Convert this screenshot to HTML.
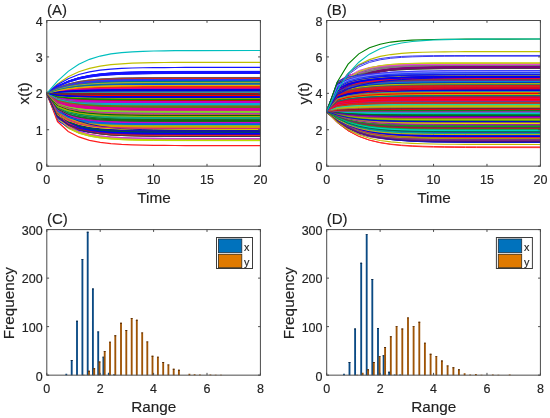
<!DOCTYPE html>
<html><head><meta charset="utf-8"><title>Figure</title>
<style>html,body{margin:0;padding:0;background:#fff}svg{display:block}text{font-family:"Liberation Sans",Arial,Helvetica,sans-serif;fill:#222;stroke:#222;stroke-width:0.15px}</style></head><body>
<svg width="550" height="418" viewBox="0 0 550 418">
<rect width="550" height="418" fill="#fff"/>
<clipPath id="cp1"><rect x="46.8" y="20.5" width="213.59999999999997" height="145.65"/></clipPath>
<g clip-path="url(#cp1)" fill="none">
<path d="M46.8 93.33L57.5 98.66L68.2 100.51L78.8 101.53L89.5 102.15L100.2 102.51L110.9 102.74L121.6 102.87L132.2 102.95L142.9 103.00L153.6 103.03L260.4 103.07" stroke="#00b4d2" stroke-width="1.15"/>
<path d="M46.8 93.33L57.5 86.83L68.2 82.19L78.8 79.03L89.5 76.95L100.2 75.60L110.9 74.75L121.6 74.21L132.2 73.88L142.9 73.67L153.6 73.54L164.3 73.46L175.0 73.41L185.6 73.38L260.4 73.33" stroke="#1414ff" stroke-width="1.05"/>
<path d="M46.8 93.33L57.5 118.17L68.2 126.85L78.8 131.78L89.5 134.79L100.2 136.64L110.9 137.79L121.6 138.50L132.2 138.94L142.9 139.21L153.6 139.38L164.3 139.48L175.0 139.55L185.6 139.59L260.4 139.65" stroke="#bedc00" stroke-width="1.00"/>
<path d="M46.8 93.33L57.5 113.55L68.2 120.57L78.8 124.44L89.5 126.75L100.2 128.13L110.9 128.97L121.6 129.47L132.2 129.77L142.9 129.95L153.6 130.06L164.3 130.13L175.0 130.17L260.4 130.22" stroke="#1414aa" stroke-width="1.55"/>
<path d="M46.8 93.33L57.5 106.28L68.2 110.80L78.8 113.34L89.5 114.88L100.2 115.83L110.9 116.41L121.6 116.76L132.2 116.98L142.9 117.11L153.6 117.20L164.3 117.25L175.0 117.28L260.4 117.32" stroke="#14aa78" stroke-width="1.65"/>
<path d="M46.8 93.33L57.5 115.30L68.2 122.89L78.8 127.02L89.5 129.45L100.2 130.89L110.9 131.74L121.6 132.25L132.2 132.55L142.9 132.73L153.6 132.83L164.3 132.90L175.0 132.93L260.4 132.99" stroke="#0000ff" stroke-width="1.27"/>
<path d="M46.8 93.33L57.5 89.05L68.2 86.19L78.8 84.35L89.5 83.18L100.2 82.46L110.9 82.01L121.6 81.73L132.2 81.56L142.9 81.46L153.6 81.40L164.3 81.36L260.4 81.30" stroke="#00826e" stroke-width="2.20"/>
<path d="M46.8 93.33L57.5 118.05L68.2 126.64L78.8 131.41L89.5 134.27L100.2 135.99L110.9 137.03L121.6 137.66L132.2 138.04L142.9 138.27L153.6 138.41L164.3 138.50L175.0 138.55L185.6 138.58L260.4 138.62" stroke="#cd3cdc" stroke-width="1.15"/>
<path d="M46.8 93.33L57.5 99.85L68.2 102.11L78.8 103.35L89.5 104.09L100.2 104.53L110.9 104.79L121.6 104.94L132.2 105.04L142.9 105.09L153.6 105.13L260.4 105.17" stroke="#00b4d2" stroke-width="1.15"/>
<path d="M46.8 93.33L57.5 86.39L68.2 81.46L78.8 78.14L89.5 75.98L100.2 74.61L110.9 73.75L121.6 73.22L132.2 72.89L142.9 72.69L153.6 72.57L164.3 72.49L175.0 72.45L185.6 72.42L260.4 72.38" stroke="#1414ff" stroke-width="1.05"/>
<path d="M46.8 93.33L57.5 86.32L68.2 81.25L78.8 77.78L89.5 75.49L100.2 74.00L110.9 73.06L121.6 72.46L132.2 72.09L142.9 71.86L153.6 71.71L164.3 71.62L175.0 71.57L185.6 71.53L260.4 71.48" stroke="#1414ff" stroke-width="1.05"/>
<path d="M46.8 93.33L57.5 99.88L68.2 102.16L78.8 103.42L89.5 104.17L100.2 104.62L110.9 104.89L121.6 105.05L132.2 105.15L142.9 105.21L153.6 105.25L260.4 105.30" stroke="#8c6e14" stroke-width="1.30"/>
<path d="M46.8 93.33L57.5 113.59L68.2 120.55L78.8 124.29L89.5 126.46L100.2 127.72L110.9 128.46L121.6 128.89L132.2 129.14L142.9 129.29L153.6 129.38L164.3 129.43L175.0 129.46L260.4 129.50" stroke="#dcd200" stroke-width="2.10"/>
<path d="M46.8 93.33L57.5 111.45L68.2 117.72L78.8 121.17L89.5 123.20L100.2 124.42L110.9 125.15L121.6 125.58L132.2 125.84L142.9 125.99L153.6 126.09L164.3 126.14L175.0 126.18L260.4 126.22" stroke="#d2a000" stroke-width="1.55"/>
<path d="M46.8 93.33L57.5 89.83L68.2 87.49L78.8 85.98L89.5 85.01L100.2 84.40L110.9 84.02L121.6 83.79L132.2 83.64L142.9 83.55L153.6 83.49L164.3 83.46L260.4 83.40" stroke="#008282" stroke-width="1.90"/>
<path d="M46.8 93.33L57.5 118.96L68.2 127.82L78.8 132.66L89.5 135.51L100.2 137.20L110.9 138.20L121.6 138.80L132.2 139.15L142.9 139.37L153.6 139.49L164.3 139.57L175.0 139.61L260.4 139.67" stroke="#cd3cdc" stroke-width="1.15"/>
<path d="M46.8 93.33L57.5 91.27L68.2 89.96L78.8 89.14L89.5 88.63L100.2 88.32L110.9 88.13L121.6 88.01L132.2 87.94L142.9 87.89L153.6 87.87L260.4 87.83" stroke="#eb0082" stroke-width="1.25"/>
<path d="M46.8 93.33L57.5 115.89L68.2 123.69L78.8 127.96L89.5 130.47L100.2 131.97L110.9 132.85L121.6 133.38L132.2 133.70L142.9 133.89L153.6 134.00L164.3 134.06L175.0 134.10L260.4 134.16" stroke="#0000ff" stroke-width="1.27"/>
<path d="M46.8 93.33L57.5 104.60L68.2 108.47L78.8 110.55L89.5 111.75L100.2 112.45L110.9 112.85L121.6 113.09L132.2 113.23L142.9 113.31L153.6 113.36L260.4 113.42" stroke="#aa32c8" stroke-width="2.05"/>
<path d="M46.8 93.33L57.5 107.34L68.2 112.20L78.8 114.88L89.5 116.48L100.2 117.43L110.9 118.01L121.6 118.35L132.2 118.56L142.9 118.69L153.6 118.76L164.3 118.81L175.0 118.83L260.4 118.87" stroke="#14aa78" stroke-width="1.65"/>
<path d="M46.8 93.33L57.5 109.11L68.2 114.55L78.8 117.51L89.5 119.24L100.2 120.26L110.9 120.86L121.6 121.22L132.2 121.43L142.9 121.55L153.6 121.63L164.3 121.67L260.4 121.73" stroke="#146e14" stroke-width="1.33"/>
<path d="M46.8 93.33L57.5 100.77L68.2 103.34L78.8 104.73L89.5 105.54L100.2 106.02L110.9 106.31L121.6 106.47L132.2 106.57L142.9 106.63L153.6 106.66L260.4 106.71" stroke="#647814" stroke-width="1.33"/>
<path d="M46.8 93.33L57.5 90.38L68.2 88.49L78.8 87.30L89.5 86.56L100.2 86.12L110.9 85.84L121.6 85.68L132.2 85.58L142.9 85.52L153.6 85.48L260.4 85.43" stroke="#dcb400" stroke-width="2.25"/>
<path d="M46.8 93.33L57.5 103.07L68.2 106.43L78.8 108.24L89.5 109.29L100.2 109.91L110.9 110.27L121.6 110.48L132.2 110.61L142.9 110.68L153.6 110.72L260.4 110.78" stroke="#82d228" stroke-width="1.17"/>
<path d="M46.8 93.33L57.5 110.06L68.2 115.82L78.8 118.93L89.5 120.74L100.2 121.79L110.9 122.42L121.6 122.78L132.2 123.00L142.9 123.12L153.6 123.19L164.3 123.24L260.4 123.30" stroke="#d200c8" stroke-width="1.40"/>
<path d="M46.8 93.33L57.5 102.84L68.2 106.13L78.8 107.95L89.5 109.02L100.2 109.67L110.9 110.05L121.6 110.29L132.2 110.43L142.9 110.51L153.6 110.56L164.3 110.59L260.4 110.63" stroke="#e00096" stroke-width="1.33"/>
<path d="M46.8 93.33L57.5 97.18L68.2 98.53L78.8 99.29L89.5 99.75L100.2 100.04L110.9 100.22L121.6 100.32L132.2 100.39L142.9 100.43L153.6 100.46L260.4 100.50" stroke="#aa1e00" stroke-width="2.20"/>
<path d="M46.8 93.33L57.5 101.42L68.2 104.21L78.8 105.74L89.5 106.63L100.2 107.16L110.9 107.48L121.6 107.67L132.2 107.78L142.9 107.84L153.6 107.88L260.4 107.94" stroke="#647814" stroke-width="1.33"/>
<path d="M46.8 93.33L57.5 101.37L68.2 104.17L78.8 105.74L89.5 106.69L100.2 107.27L110.9 107.62L121.6 107.83L132.2 107.96L142.9 108.04L153.6 108.09L164.3 108.12L260.4 108.17" stroke="#e00096" stroke-width="1.33"/>
<path d="M46.8 93.33L57.5 96.58L68.2 97.71L78.8 98.35L89.5 98.75L100.2 98.99L110.9 99.14L121.6 99.23L132.2 99.28L142.9 99.32L260.4 99.37" stroke="#008c00" stroke-width="2.25"/>
<path d="M46.8 93.33L57.5 88.95L68.2 85.97L78.8 84.01L89.5 82.74L100.2 81.94L110.9 81.43L121.6 81.12L132.2 80.92L142.9 80.80L153.6 80.72L164.3 80.68L175.0 80.65L260.4 80.60" stroke="#1e3cff" stroke-width="1.40"/>
<path d="M46.8 93.33L57.5 105.38L68.2 109.57L78.8 111.88L89.5 113.27L100.2 114.10L110.9 114.61L121.6 114.91L132.2 115.10L142.9 115.21L153.6 115.27L164.3 115.31L260.4 115.37" stroke="#006e00" stroke-width="2.15"/>
<path d="M46.8 93.33L57.5 88.34L68.2 84.95L78.8 82.74L89.5 81.34L100.2 80.46L110.9 79.92L121.6 79.59L132.2 79.38L142.9 79.26L153.6 79.18L164.3 79.13L175.0 79.11L260.4 79.06" stroke="#dc281e" stroke-width="1.28"/>
<path d="M46.8 93.33L57.5 111.06L68.2 117.20L78.8 120.57L89.5 122.56L100.2 123.74L110.9 124.45L121.6 124.87L132.2 125.13L142.9 125.28L153.6 125.37L164.3 125.42L175.0 125.45L260.4 125.50" stroke="#78d21e" stroke-width="2.10"/>
<path d="M46.8 93.33L57.5 88.56L68.2 85.28L78.8 83.11L89.5 81.70L100.2 80.80L110.9 80.24L121.6 79.88L132.2 79.66L142.9 79.52L153.6 79.44L164.3 79.39L175.0 79.35L260.4 79.30" stroke="#1e3cff" stroke-width="1.40"/>
<path d="M46.8 93.33L57.5 87.88L68.2 84.17L78.8 81.74L89.5 80.19L100.2 79.23L110.9 78.63L121.6 78.27L132.2 78.05L142.9 77.91L153.6 77.83L164.3 77.78L175.0 77.75L260.4 77.70" stroke="#5a5a5a" stroke-width="1.30"/>
<path d="M46.8 93.33L57.5 109.12L68.2 114.58L78.8 117.59L89.5 119.36L100.2 120.42L110.9 121.06L121.6 121.44L132.2 121.66L142.9 121.80L153.6 121.88L164.3 121.93L175.0 121.96L260.4 122.00" stroke="#d200c8" stroke-width="1.40"/>
<path d="M46.8 93.33L57.5 116.83L68.2 124.93L78.8 129.31L89.5 131.87L100.2 133.37L110.9 134.26L121.6 134.78L132.2 135.08L142.9 135.27L153.6 135.37L164.3 135.44L175.0 135.47L260.4 135.52" stroke="#e63228" stroke-width="2.35"/>
<path d="M46.8 93.33L57.5 98.57L68.2 100.38L78.8 101.37L89.5 101.95L100.2 102.30L110.9 102.50L121.6 102.62L132.2 102.69L142.9 102.74L260.4 102.80" stroke="#c800c8" stroke-width="1.60"/>
<path d="M46.8 93.33L57.5 109.79L68.2 115.51L78.8 118.71L89.5 120.62L100.2 121.79L110.9 122.50L121.6 122.92L132.2 123.18L142.9 123.34L153.6 123.44L164.3 123.50L175.0 123.53L260.4 123.59" stroke="#0064e6" stroke-width="1.37"/>
<path d="M46.8 93.33L57.5 93.87L68.2 94.06L78.8 94.16L89.5 94.22L100.2 94.25L260.4 94.30" stroke="#5a3232" stroke-width="2.10"/>
<path d="M46.8 93.33L57.5 104.67L68.2 108.63L78.8 110.86L89.5 112.21L100.2 113.05L110.9 113.56L121.6 113.87L132.2 114.07L142.9 114.19L153.6 114.26L164.3 114.30L175.0 114.33L260.4 114.37" stroke="#c86446" stroke-width="2.05"/>
<path d="M46.8 93.33L57.5 114.32L68.2 121.66L78.8 125.80L89.5 128.33L100.2 129.89L110.9 130.85L121.6 131.45L132.2 131.81L142.9 132.04L153.6 132.18L164.3 132.26L175.0 132.32L185.6 132.35L260.4 132.40" stroke="#005a3c" stroke-width="2.10"/>
<path d="M46.8 93.33L57.5 96.08L68.2 97.03L78.8 97.55L89.5 97.86L100.2 98.05L110.9 98.16L121.6 98.23L132.2 98.27L260.4 98.32" stroke="#beb400" stroke-width="2.05"/>
<path d="M46.8 93.33L57.5 99.20L68.2 101.24L78.8 102.38L89.5 103.07L100.2 103.48L110.9 103.74L121.6 103.89L132.2 103.98L142.9 104.04L153.6 104.07L260.4 104.12" stroke="#00b4d2" stroke-width="1.15"/>
<path d="M46.8 93.33L57.5 108.36L68.2 113.55L78.8 116.39L89.5 118.06L100.2 119.05L110.9 119.64L121.6 119.99L132.2 120.19L142.9 120.32L153.6 120.39L164.3 120.44L260.4 120.50" stroke="#146e14" stroke-width="1.33"/>
<path d="M46.8 93.33L57.5 86.30L68.2 81.35L78.8 78.04L89.5 75.91L100.2 74.56L110.9 73.73L121.6 73.22L132.2 72.91L142.9 72.72L153.6 72.60L164.3 72.53L175.0 72.49L260.4 72.43" stroke="#1414ff" stroke-width="1.05"/>
<path d="M46.8 93.33L260.4 93.28" stroke="#dc0000" stroke-width="2.15"/>
<path d="M46.8 93.33L57.5 116.66L68.2 124.78L78.8 129.31L89.5 132.04L100.2 133.70L110.9 134.71L121.6 135.32L132.2 135.70L142.9 135.92L153.6 136.06L164.3 136.14L175.0 136.20L185.6 136.23L260.4 136.27" stroke="#323c3c" stroke-width="1.35"/>
<path d="M46.8 93.33L57.5 88.15L68.2 84.55L78.8 82.15L89.5 80.58L100.2 79.58L110.9 78.94L121.6 78.55L132.2 78.30L142.9 78.14L153.6 78.05L164.3 77.99L175.0 77.95L260.4 77.89" stroke="#dc281e" stroke-width="1.28"/>
<path d="M46.8 93.33L57.5 112.91L68.2 119.65L78.8 123.30L89.5 125.42L100.2 126.67L110.9 127.40L121.6 127.83L132.2 128.09L142.9 128.24L153.6 128.32L164.3 128.38L175.0 128.41L260.4 128.45" stroke="#dc286e" stroke-width="2.20"/>
<path d="M46.8 93.33L57.5 93.05L68.2 92.89L78.8 92.78L89.5 92.72L100.2 92.68L110.9 92.65L260.4 92.61" stroke="#3c9696" stroke-width="1.37"/>
<path d="M46.8 93.33L57.5 114.53L68.2 121.86L78.8 125.87L89.5 128.22L100.2 129.62L110.9 130.45L121.6 130.95L132.2 131.24L142.9 131.42L153.6 131.52L164.3 131.58L175.0 131.62L260.4 131.67" stroke="#1414aa" stroke-width="1.55"/>
<path d="M46.8 93.33L57.5 94.96L68.2 95.52L78.8 95.83L89.5 96.02L100.2 96.12L110.9 96.19L121.6 96.23L260.4 96.29" stroke="#ff0000" stroke-width="1.42"/>
<path d="M46.8 93.33L57.5 92.58L68.2 92.11L78.8 91.81L89.5 91.63L100.2 91.52L110.9 91.45L121.6 91.41L132.2 91.38L260.4 91.34" stroke="#3c9696" stroke-width="1.37"/>
<path d="M46.8 93.33L57.5 94.21L68.2 94.52L78.8 94.69L89.5 94.80L100.2 94.86L110.9 94.90L260.4 94.96" stroke="#ff0000" stroke-width="1.42"/>
<path d="M46.8 93.33L57.5 116.48L68.2 124.43L78.8 128.69L89.5 131.14L100.2 132.57L110.9 133.41L121.6 133.90L132.2 134.18L142.9 134.34L153.6 134.44L164.3 134.50L175.0 134.53L260.4 134.57" stroke="#640078" stroke-width="1.75"/>
<path d="M46.8 93.33L57.5 119.20L68.2 128.17L78.8 133.13L89.5 136.09L100.2 137.86L110.9 138.93L121.6 139.58L132.2 139.96L142.9 140.20L153.6 140.34L164.3 140.42L175.0 140.47L185.6 140.50L260.4 140.55" stroke="#bedc00" stroke-width="1.00"/>
<path d="M46.8 93.33L57.5 103.60L68.2 107.15L78.8 109.08L89.5 110.21L100.2 110.88L110.9 111.27L121.6 111.51L132.2 111.65L142.9 111.73L153.6 111.78L164.3 111.81L260.4 111.85" stroke="#82d228" stroke-width="1.17"/>
<path d="M46.8 93.33L57.5 89.29L68.2 86.66L78.8 85.01L89.5 83.98L100.2 83.36L110.9 82.99L121.6 82.76L132.2 82.63L142.9 82.54L153.6 82.50L164.3 82.47L260.4 82.43" stroke="#aaaa3c" stroke-width="2.25"/>
<path d="M46.8 93.33L57.5 90.58L68.2 88.85L78.8 87.79L89.5 87.15L100.2 86.76L110.9 86.53L121.6 86.39L132.2 86.31L142.9 86.26L153.6 86.23L260.4 86.19" stroke="#f0320a" stroke-width="1.48"/>
<path d="M46.8 93.33L57.5 107.25L68.2 112.12L78.8 114.87L89.5 116.55L100.2 117.59L110.9 118.23L121.6 118.63L132.2 118.87L142.9 119.02L153.6 119.12L164.3 119.17L175.0 119.21L260.4 119.27" stroke="#146e14" stroke-width="1.33"/>
<path d="M46.8 93.33L57.5 102.18L68.2 105.24L78.8 106.93L89.5 107.92L100.2 108.52L110.9 108.87L121.6 109.08L132.2 109.21L142.9 109.29L153.6 109.33L260.4 109.40" stroke="#e00096" stroke-width="1.33"/>
<path d="M46.8 93.33L57.5 92.51L68.2 92.00L78.8 91.68L89.5 91.49L100.2 91.37L110.9 91.29L121.6 91.25L132.2 91.22L260.4 91.18" stroke="#0000dc" stroke-width="1.15"/>
<path d="M46.8 93.33L57.5 112.14L68.2 118.67L78.8 122.27L89.5 124.42L100.2 125.72L110.9 126.50L121.6 126.97L132.2 127.25L142.9 127.42L153.6 127.52L164.3 127.58L175.0 127.62L260.4 127.67" stroke="#d2a000" stroke-width="1.55"/>
<path d="M46.8 93.33L57.5 106.18L68.2 110.62L78.8 113.03L89.5 114.44L100.2 115.27L110.9 115.76L121.6 116.05L132.2 116.23L142.9 116.33L153.6 116.39L164.3 116.42L260.4 116.47" stroke="#aab400" stroke-width="2.25"/>
<path d="M46.8 93.33L57.5 90.10L68.2 87.98L78.8 86.61L89.5 85.75L100.2 85.20L110.9 84.87L121.6 84.66L132.2 84.53L142.9 84.45L153.6 84.40L164.3 84.37L260.4 84.33" stroke="#0050e6" stroke-width="2.15"/>
<path d="M46.8 93.33L57.5 95.74L68.2 96.58L78.8 97.04L89.5 97.32L100.2 97.49L110.9 97.59L121.6 97.66L132.2 97.69L260.4 97.75" stroke="#0000e6" stroke-width="1.30"/>
<path d="M46.8 93.33L57.5 110.79L68.2 116.82L78.8 120.11L89.5 122.04L100.2 123.19L110.9 123.87L121.6 124.27L132.2 124.51L142.9 124.66L153.6 124.74L164.3 124.79L175.0 124.82L260.4 124.86" stroke="#0064e6" stroke-width="1.37"/>
<path d="M46.8 93.33L57.5 91.61L68.2 90.56L78.8 89.92L89.5 89.54L100.2 89.31L110.9 89.17L121.6 89.09L132.2 89.04L142.9 89.02L260.4 88.98" stroke="#eb0082" stroke-width="1.25"/>
<path d="M46.8 93.33L57.5 97.64L68.2 99.15L78.8 99.99L89.5 100.50L100.2 100.81L110.9 101.00L121.6 101.12L132.2 101.19L142.9 101.23L153.6 101.26L260.4 101.30" stroke="#c800c8" stroke-width="1.60"/>
<path d="M46.8 93.33L57.5 91.77L68.2 90.77L78.8 90.13L89.5 89.74L100.2 89.49L110.9 89.33L121.6 89.23L132.2 89.17L142.9 89.14L260.4 89.08" stroke="#0000dc" stroke-width="1.15"/>
<path d="M46.8 93.33L57.5 103.97L68.2 107.67L78.8 109.74L89.5 110.99L100.2 111.74L110.9 112.20L121.6 112.48L132.2 112.65L142.9 112.76L153.6 112.82L164.3 112.86L260.4 112.92" stroke="#82d228" stroke-width="1.17"/>
<path d="M46.8 93.33L57.5 92.06L68.2 91.29L78.8 90.82L89.5 90.54L100.2 90.37L110.9 90.27L121.6 90.21L132.2 90.18L260.4 90.13" stroke="#0000dc" stroke-width="1.15"/>
<path d="M46.8 93.33L57.5 91.15L68.2 89.77L78.8 88.91L89.5 88.38L100.2 88.06L110.9 87.86L121.6 87.74L132.2 87.67L142.9 87.63L153.6 87.60L260.4 87.56" stroke="#f0320a" stroke-width="1.48"/>
<path d="M46.8 93.33L57.5 100.49L68.2 102.98L78.8 104.37L89.5 105.21L100.2 105.71L110.9 106.02L121.6 106.21L132.2 106.32L142.9 106.39L153.6 106.43L260.4 106.50" stroke="#8c6e14" stroke-width="1.30"/>
<path d="M46.8 93.33L57.5 95.11L68.2 95.72L78.8 96.06L89.5 96.26L100.2 96.38L110.9 96.45L121.6 96.49L260.4 96.55" stroke="#0000e6" stroke-width="1.30"/>
<path d="M46.8 93.33L57.5 86.49L68.2 81.65L78.8 78.39L89.5 76.28L100.2 74.94L110.9 74.10L121.6 73.58L132.2 73.26L142.9 73.06L153.6 72.94L164.3 72.87L175.0 72.82L185.6 72.79L260.4 72.75" stroke="#1414ff" stroke-width="1.00"/>
<path d="M46.8 93.33L57.5 100.91L68.2 103.53L78.8 104.94L89.5 105.77L100.2 106.26L110.9 106.55L121.6 106.72L132.2 106.82L142.9 106.88L153.6 106.91L260.4 106.96" stroke="#647814" stroke-width="1.00"/>
<path d="M46.8 93.33L57.5 108.36L68.2 113.55L78.8 116.39L89.5 118.06L100.2 119.05L110.9 119.64L121.6 119.99L132.2 120.19L142.9 120.32L153.6 120.39L164.3 120.44L260.4 120.50" stroke="#146e14" stroke-width="1.00"/>
<path d="M46.8 93.33L57.5 92.15L68.2 91.39L78.8 90.92L89.5 90.62L100.2 90.43L110.9 90.32L121.6 90.24L132.2 90.20L142.9 90.17L260.4 90.13" stroke="#0000dc" stroke-width="1.00"/>
<path d="M46.8 93.33L57.5 109.92L68.2 115.70L78.8 118.92L89.5 120.85L100.2 122.02L110.9 122.74L121.6 123.17L132.2 123.43L142.9 123.59L153.6 123.69L164.3 123.75L175.0 123.78L260.4 123.84" stroke="#0064e6" stroke-width="1.00"/>
<path d="M46.8 93.33L57.5 94.87L68.2 95.38L78.8 95.65L89.5 95.81L100.2 95.90L110.9 95.96L121.6 95.99L260.4 96.04" stroke="#ff0000" stroke-width="1.00"/>
<path d="M46.8 93.33L57.5 106.41L68.2 110.98L78.8 113.55L89.5 115.11L100.2 116.06L110.9 116.65L121.6 117.01L132.2 117.23L142.9 117.36L153.6 117.44L164.3 117.49L175.0 117.53L260.4 117.57" stroke="#14aa78" stroke-width="1.05"/>
<path d="M46.8 93.33L57.5 118.76L68.2 127.54L78.8 132.34L89.5 135.17L100.2 136.84L110.9 137.84L121.6 138.43L132.2 138.78L142.9 138.99L153.6 139.12L164.3 139.19L175.0 139.24L260.4 139.30" stroke="#cd3cdc" stroke-width="1.00"/>
<path d="M46.8 93.33L260.4 93.28" stroke="#dc0000" stroke-width="1.00"/>
<path d="M46.8 93.33L57.5 92.96L68.2 92.73L78.8 92.59L89.5 92.50L100.2 92.45L110.9 92.42L260.4 92.36" stroke="#3c9696" stroke-width="1.00"/>
<path d="M46.8 93.33L57.5 91.65L68.2 90.68L78.8 90.13L89.5 89.81L100.2 89.64L110.9 89.54L121.6 89.48L132.2 89.45L260.4 89.41" stroke="#0000dc" stroke-width="1.00"/>
<path d="M46.8 93.33L57.5 99.07L68.2 101.10L78.8 102.14L89.5 102.71L100.2 103.02L110.9 103.20L121.6 103.29L132.2 103.34L260.4 103.41" stroke="#00b4d2" stroke-width="1.00"/>
<path d="M46.8 93.33L57.5 119.26L68.2 128.27L78.8 133.24L89.5 136.20L100.2 137.98L110.9 139.05L121.6 139.70L132.2 140.09L142.9 140.32L153.6 140.46L164.3 140.55L175.0 140.60L185.6 140.63L260.4 140.67" stroke="#bedc00" stroke-width="1.00"/>
<path d="M46.8 93.33L57.5 108.63L68.2 113.58L78.8 115.98L89.5 117.23L100.2 117.89L110.9 118.24L121.6 118.42L132.2 118.52L142.9 118.57L260.4 118.62" stroke="#14aa78" stroke-width="1.00"/>
<path d="M46.8 93.33L57.5 114.78L68.2 120.89L78.8 123.87L89.5 125.48L100.2 126.36L110.9 126.84L121.6 127.10L132.2 127.25L142.9 127.33L153.6 127.37L260.4 127.42" stroke="#d2a000" stroke-width="1.00"/>
<path d="M46.8 93.33L57.5 111.06L68.2 117.20L78.8 120.57L89.5 122.56L100.2 123.74L110.9 124.45L121.6 124.87L132.2 125.13L142.9 125.28L153.6 125.37L164.3 125.42L175.0 125.45L260.4 125.50" stroke="#78d21e" stroke-width="1.00"/>
<path d="M46.8 93.33L57.5 97.97L68.2 99.28L78.8 100.03L89.5 100.53L100.2 100.86L110.9 101.09L121.6 101.24L132.2 101.34L142.9 101.41L153.6 101.46L164.3 101.49L175.0 101.51L260.4 101.55" stroke="#c800c8" stroke-width="1.00"/>
<path d="M46.8 93.33L57.5 112.28L68.2 119.86L78.8 124.27L89.5 126.99L100.2 128.68L110.9 129.72L121.6 130.37L132.2 130.77L142.9 131.02L153.6 131.17L164.3 131.27L175.0 131.33L185.6 131.37L260.4 131.42" stroke="#1414aa" stroke-width="1.00"/>
<path d="M46.8 93.33L57.5 99.88L68.2 102.79L78.8 104.56L89.5 105.69L100.2 106.41L110.9 106.87L121.6 107.16L132.2 107.35L142.9 107.47L153.6 107.55L164.3 107.60L175.0 107.63L260.4 107.69" stroke="#647814" stroke-width="1.00"/>
<path d="M46.8 93.33L57.5 100.02L68.2 102.34L78.8 103.63L89.5 104.39L100.2 104.85L110.9 105.13L121.6 105.30L132.2 105.40L142.9 105.46L153.6 105.49L260.4 105.55" stroke="#8c6e14" stroke-width="1.00"/>
<path d="M46.8 93.33L57.5 110.65L68.2 116.64L78.8 119.90L89.5 121.82L100.2 122.95L110.9 123.63L121.6 124.03L132.2 124.27L142.9 124.41L153.6 124.49L164.3 124.54L175.0 124.57L260.4 124.61" stroke="#0064e6" stroke-width="1.00"/>
<path d="M46.8 93.33L260.4 93.28" stroke="#dc0000" stroke-width="1.05"/>
<path d="M46.8 93.33L57.5 88.22L68.2 84.68L78.8 82.32L89.5 80.78L100.2 79.80L110.9 79.17L121.6 78.78L132.2 78.54L142.9 78.39L153.6 78.29L164.3 78.23L175.0 78.20L260.4 78.14" stroke="#dc281e" stroke-width="1.00"/>
<path d="M46.8 93.33L57.5 106.76L68.2 111.40L78.8 114.19L89.5 116.01L100.2 117.22L110.9 118.03L121.6 118.56L132.2 118.91L142.9 119.14L153.6 119.30L164.3 119.40L175.0 119.47L185.6 119.51L196.3 119.54L260.4 119.60" stroke="#146e14" stroke-width="1.00"/>
<path d="M46.8 93.33L57.5 98.43L68.2 100.19L78.8 101.16L89.5 101.72L100.2 102.06L110.9 102.26L121.6 102.38L132.2 102.45L142.9 102.49L260.4 102.55" stroke="#c800c8" stroke-width="1.00"/>
<path d="M46.8 93.33L57.5 95.60L68.2 96.39L78.8 96.83L89.5 97.10L100.2 97.26L110.9 97.35L121.6 97.41L132.2 97.45L260.4 97.50" stroke="#0000e6" stroke-width="1.00"/>
<path d="M46.8 93.33L57.5 94.82L68.2 95.34L78.8 95.62L89.5 95.79L100.2 95.89L110.9 95.95L121.6 95.98L260.4 96.04" stroke="#ff0000" stroke-width="1.00"/>
<path d="M46.8 93.33L57.5 113.69L68.2 120.75L78.8 124.65L89.5 126.98L100.2 128.37L110.9 129.21L121.6 129.71L132.2 130.02L142.9 130.20L153.6 130.31L164.3 130.38L175.0 130.42L260.4 130.47" stroke="#1414aa" stroke-width="1.00"/>
<path d="M46.8 93.33L57.5 91.03L68.2 89.72L78.8 88.98L89.5 88.57L100.2 88.35L110.9 88.22L121.6 88.16L132.2 88.12L260.4 88.08" stroke="#eb0082" stroke-width="1.00"/>
<path d="M46.8 93.33L57.5 101.40L68.2 104.69L78.8 106.69L89.5 107.97L100.2 108.79L110.9 109.33L121.6 109.67L132.2 109.89L142.9 110.04L153.6 110.13L164.3 110.19L175.0 110.23L185.6 110.25L260.4 110.30" stroke="#e00096" stroke-width="1.00"/>
<path d="M46.8 93.33L57.5 97.18L68.2 98.53L78.8 99.29L89.5 99.75L100.2 100.04L110.9 100.22L121.6 100.32L132.2 100.39L142.9 100.43L153.6 100.46L260.4 100.50" stroke="#aa1e00" stroke-width="1.10"/>
<path d="M46.8 93.33L57.5 86.19L68.2 81.15L78.8 77.78L89.5 75.60L100.2 74.23L110.9 73.38L121.6 72.86L132.2 72.54L142.9 72.35L153.6 72.23L164.3 72.16L175.0 72.12L260.4 72.05" stroke="#1414ff" stroke-width="1.00"/>
<path d="M46.8 93.33L57.5 102.71L68.2 106.21L78.8 108.18L89.5 109.35L100.2 110.05L110.9 110.48L121.6 110.73L132.2 110.88L142.9 110.98L153.6 111.03L164.3 111.07L260.4 111.12" stroke="#82d228" stroke-width="1.00"/>
<path d="M46.8 93.33L57.5 94.35L68.2 94.70L78.8 94.90L89.5 95.02L100.2 95.10L110.9 95.14L121.6 95.17L260.4 95.21" stroke="#ff0000" stroke-width="1.00"/>
<path d="M46.8 93.33L57.5 107.17L68.2 111.99L78.8 114.89L89.5 116.79L100.2 118.04L110.9 118.87L121.6 119.42L132.2 119.79L142.9 120.03L153.6 120.19L164.3 120.29L175.0 120.36L185.6 120.41L196.3 120.44L260.4 120.49" stroke="#146e14" stroke-width="1.00"/>
<path d="M46.8 93.33L57.5 103.60L68.2 107.15L78.8 109.08L89.5 110.21L100.2 110.88L110.9 111.27L121.6 111.51L132.2 111.65L142.9 111.73L153.6 111.78L164.3 111.81L260.4 111.85" stroke="#82d228" stroke-width="1.00"/>
<path d="M46.8 93.33L57.5 115.44L68.2 123.07L78.8 127.23L89.5 129.68L100.2 131.13L110.9 131.98L121.6 132.49L132.2 132.80L142.9 132.98L153.6 133.08L164.3 133.15L175.0 133.18L260.4 133.24" stroke="#0000ff" stroke-width="1.00"/>
<path d="M46.8 93.33L57.5 90.96L68.2 89.50L78.8 88.61L89.5 88.08L100.2 87.77L110.9 87.58L121.6 87.47L132.2 87.41L142.9 87.37L260.4 87.31" stroke="#f0320a" stroke-width="1.00"/>
<path d="M46.8 93.33L57.5 89.05L68.2 86.19L78.8 84.35L89.5 83.18L100.2 82.46L110.9 82.01L121.6 81.73L132.2 81.56L142.9 81.46L153.6 81.40L164.3 81.36L260.4 81.30" stroke="#00826e" stroke-width="1.10"/>
<path d="M46.8 93.33L57.5 90.10L68.2 87.98L78.8 86.61L89.5 85.75L100.2 85.20L110.9 84.87L121.6 84.66L132.2 84.53L142.9 84.45L153.6 84.40L164.3 84.37L260.4 84.33" stroke="#0050e6" stroke-width="1.05"/>
<path d="M46.8 93.33L57.5 108.20L68.2 114.36L78.8 117.86L89.5 119.94L100.2 121.19L110.9 121.94L121.6 122.38L132.2 122.65L142.9 122.81L153.6 122.91L164.3 122.96L175.0 123.00L260.4 123.05" stroke="#d200c8" stroke-width="1.00"/>
<path d="M46.8 93.33L57.5 86.87L68.2 82.25L78.8 79.11L89.5 77.05L100.2 75.71L110.9 74.87L121.6 74.33L132.2 74.00L142.9 73.79L153.6 73.66L164.3 73.58L175.0 73.53L185.6 73.50L260.4 73.45" stroke="#1414ff" stroke-width="1.00"/>
<path d="M46.8 93.33L57.5 90.66L68.2 88.99L78.8 87.97L89.5 87.35L100.2 86.98L110.9 86.76L121.6 86.63L132.2 86.55L142.9 86.50L260.4 86.44" stroke="#f0320a" stroke-width="1.00"/>
<path d="M46.8 93.33L57.5 98.50L68.2 100.74L78.8 102.05L89.5 102.85L100.2 103.35L110.9 103.65L121.6 103.83L132.2 103.94L142.9 104.01L153.6 104.06L164.3 104.08L260.4 104.12" stroke="#00b4d2" stroke-width="1.00"/>
<path d="M46.8 93.33L57.5 103.26L68.2 106.68L78.8 108.52L89.5 109.59L100.2 110.22L110.9 110.59L121.6 110.81L132.2 110.94L142.9 111.01L153.6 111.05L260.4 111.12" stroke="#82d228" stroke-width="1.00"/>
<path d="M46.8 93.33L57.5 97.50L68.2 98.81L78.8 99.51L89.5 99.91L100.2 100.15L110.9 100.30L121.6 100.38L132.2 100.43L142.9 100.46L260.4 100.50" stroke="#aa1e00" stroke-width="1.00"/>
<path d="M46.8 93.33L57.5 101.28L68.2 104.03L78.8 105.53L89.5 106.41L100.2 106.93L110.9 107.24L121.6 107.42L132.2 107.53L142.9 107.59L153.6 107.63L260.4 107.69" stroke="#647814" stroke-width="1.00"/>
<path d="M46.8 93.33L57.5 100.31L68.2 103.49L78.8 105.39L89.5 106.57L100.2 107.30L110.9 107.75L121.6 108.04L132.2 108.21L142.9 108.32L153.6 108.39L164.3 108.43L175.0 108.46L260.4 108.50" stroke="#e00096" stroke-width="1.00"/>
<path d="M46.8 93.33L57.5 117.91L68.2 124.54L78.8 127.88L89.5 129.78L100.2 130.88L110.9 131.52L121.6 131.89L132.2 132.10L142.9 132.23L153.6 132.30L164.3 132.34L260.4 132.40" stroke="#005a3c" stroke-width="1.00"/>
<path d="M46.8 93.33L57.5 97.78L68.2 99.33L78.8 100.20L89.5 100.72L100.2 101.04L110.9 101.24L121.6 101.36L132.2 101.43L142.9 101.48L153.6 101.51L260.4 101.55" stroke="#c800c8" stroke-width="1.00"/>
<path d="M46.8 93.33L57.5 116.83L68.2 124.93L78.8 129.31L89.5 131.87L100.2 133.37L110.9 134.26L121.6 134.78L132.2 135.08L142.9 135.27L153.6 135.37L164.3 135.44L175.0 135.47L260.4 135.52" stroke="#e63228" stroke-width="1.25"/>
<path d="M46.8 93.33L57.5 102.65L68.2 105.88L78.8 107.66L89.5 108.72L100.2 109.35L110.9 109.73L121.6 109.96L132.2 110.10L142.9 110.18L153.6 110.23L164.3 110.26L260.4 110.30" stroke="#e00096" stroke-width="1.00"/>
<path d="M46.8 93.33L57.5 99.67L68.2 101.87L78.8 103.07L89.5 103.79L100.2 104.21L110.9 104.46L121.6 104.62L132.2 104.71L142.9 104.76L153.6 104.79L260.4 104.84" stroke="#00b4d2" stroke-width="1.00"/>
<path d="M46.8 93.33L57.5 88.93L68.2 85.68L78.8 83.34L89.5 81.70L100.2 80.55L110.9 79.77L121.6 79.24L132.2 78.88L142.9 78.64L153.6 78.47L164.3 78.36L175.0 78.29L185.6 78.24L196.3 78.21L260.4 78.14" stroke="#dc281e" stroke-width="1.00"/>
<path d="M46.8 93.33L57.5 115.75L68.2 123.51L78.8 127.75L89.5 130.24L100.2 131.73L110.9 132.61L121.6 133.14L132.2 133.45L142.9 133.64L153.6 133.75L164.3 133.82L175.0 133.85L260.4 133.91" stroke="#0000ff" stroke-width="1.00"/>
<path d="M46.8 93.33L57.5 88.87L68.2 85.83L78.8 83.83L89.5 82.54L100.2 81.72L110.9 81.20L121.6 80.88L132.2 80.68L142.9 80.55L153.6 80.48L164.3 80.43L175.0 80.40L260.4 80.35" stroke="#1e3cff" stroke-width="1.00"/>
<path d="M46.8 93.33L57.5 88.26L68.2 84.81L78.8 82.57L89.5 81.14L100.2 80.24L110.9 79.69L121.6 79.35L132.2 79.14L142.9 79.01L153.6 78.93L164.3 78.89L175.0 78.86L260.4 78.81" stroke="#dc281e" stroke-width="1.00"/>
<path d="M46.8 93.33L57.5 120.38L68.2 127.43L78.8 130.60L89.5 132.20L100.2 133.03L110.9 133.46L121.6 133.68L132.2 133.79L142.9 133.85L260.4 133.91" stroke="#0000ff" stroke-width="1.00"/>
<path d="M46.8 93.33L57.5 103.79L68.2 107.43L78.8 109.46L89.5 110.69L100.2 111.43L110.9 111.88L121.6 112.16L132.2 112.32L142.9 112.43L153.6 112.49L164.3 112.52L260.4 112.58" stroke="#82d228" stroke-width="1.00"/>
<path d="M46.8 93.33L57.5 113.17L68.2 120.44L78.8 124.33L89.5 126.54L100.2 127.81L110.9 128.53L121.6 128.94L132.2 129.18L142.9 129.32L153.6 129.40L164.3 129.44L260.4 129.50" stroke="#dcd200" stroke-width="1.00"/>
<path d="M46.8 93.33L57.5 99.20L68.2 101.24L78.8 102.38L89.5 103.07L100.2 103.48L110.9 103.74L121.6 103.89L132.2 103.98L142.9 104.04L153.6 104.07L260.4 104.12" stroke="#00b4d2" stroke-width="1.00"/>
<path d="M46.8 93.33L57.5 92.38L68.2 91.79L78.8 91.43L89.5 91.20L100.2 91.06L110.9 90.98L121.6 90.93L132.2 90.89L260.4 90.84" stroke="#0000dc" stroke-width="1.00"/>
<path d="M46.8 93.33L57.5 107.43L68.2 112.36L78.8 115.15L89.5 116.85L100.2 117.90L110.9 118.55L121.6 118.95L132.2 119.20L142.9 119.35L153.6 119.45L164.3 119.51L175.0 119.54L260.4 119.60" stroke="#146e14" stroke-width="1.00"/>
<path d="M46.8 93.33L57.5 92.69L68.2 92.29L78.8 92.03L89.5 91.87L100.2 91.76L110.9 91.70L121.6 91.66L132.2 91.63L260.4 91.59" stroke="#3c9696" stroke-width="1.00"/>
<path d="M46.8 93.33L57.5 112.00L68.2 118.48L78.8 122.06L89.5 124.20L100.2 125.48L110.9 126.26L121.6 126.72L132.2 127.00L142.9 127.17L153.6 127.27L164.3 127.33L175.0 127.37L260.4 127.42" stroke="#d2a000" stroke-width="1.00"/>
<path d="M46.8 93.33L57.5 94.22L68.2 94.59L78.8 94.81L89.5 94.95L100.2 95.05L110.9 95.11L121.6 95.14L132.2 95.17L260.4 95.21" stroke="#ff0000" stroke-width="1.00"/>
<path d="M46.8 93.33L57.5 121.56L68.2 131.41L78.8 136.94L89.5 140.30L100.2 142.35L110.9 143.61L121.6 144.38L132.2 144.85L142.9 145.14L153.6 145.32L164.3 145.43L175.0 145.49L185.6 145.54L260.4 145.60" stroke="#ff1e1e" stroke-width="1.20"/>
<path d="M46.8 93.33L57.5 89.09L68.2 85.96L78.8 83.73L89.5 82.16L100.2 81.08L110.9 80.34L121.6 79.84L132.2 79.50L142.9 79.28L153.6 79.12L164.3 79.02L175.0 78.95L185.6 78.91L196.3 78.87L260.4 78.82" stroke="#dc281e" stroke-width="1.00"/>
<path d="M46.8 93.33L57.5 96.47L68.2 97.32L78.8 97.75L89.5 97.99L100.2 98.13L110.9 98.21L121.6 98.26L260.4 98.32" stroke="#beb400" stroke-width="1.00"/>
<path d="M46.8 93.33L57.5 112.91L68.2 119.65L78.8 123.30L89.5 125.42L100.2 126.67L110.9 127.40L121.6 127.83L132.2 128.09L142.9 128.24L153.6 128.32L164.3 128.38L175.0 128.41L260.4 128.45" stroke="#dc286e" stroke-width="1.10"/>
<path d="M46.8 93.33L57.5 114.71L68.2 123.32L78.8 128.21L89.5 131.13L100.2 132.89L110.9 133.94L121.6 134.57L132.2 134.95L142.9 135.18L153.6 135.32L164.3 135.40L175.0 135.45L185.6 135.48L260.4 135.52" stroke="#e63228" stroke-width="1.00"/>
<path d="M46.8 93.33L57.5 109.10L68.2 115.09L78.8 118.26L89.5 120.02L100.2 121.00L110.9 121.55L121.6 121.86L132.2 122.03L142.9 122.13L153.6 122.18L260.4 122.25" stroke="#d200c8" stroke-width="1.00"/>
<path d="M46.8 93.33L57.5 92.90L68.2 92.66L78.8 92.53L89.5 92.46L100.2 92.41L260.4 92.36" stroke="#3c9696" stroke-width="1.00"/>
<path d="M46.8 93.33L57.5 106.18L68.2 110.62L78.8 113.03L89.5 114.44L100.2 115.27L110.9 115.76L121.6 116.05L132.2 116.23L142.9 116.33L153.6 116.39L164.3 116.42L260.4 116.47" stroke="#aab400" stroke-width="1.15"/>
<path d="M46.8 93.33L57.5 114.40L68.2 121.68L78.8 125.65L89.5 128.00L100.2 129.39L110.9 130.21L121.6 130.70L132.2 131.00L142.9 131.17L153.6 131.27L164.3 131.33L175.0 131.37L260.4 131.42" stroke="#1414aa" stroke-width="1.00"/>
<path d="M46.8 93.33L57.5 96.58L68.2 97.71L78.8 98.35L89.5 98.75L100.2 98.99L110.9 99.14L121.6 99.23L132.2 99.28L142.9 99.32L260.4 99.37" stroke="#008c00" stroke-width="1.15"/>
<path d="M46.8 93.33L57.5 100.35L68.2 102.80L78.8 104.16L89.5 104.98L100.2 105.48L110.9 105.78L121.6 105.96L132.2 106.08L142.9 106.14L153.6 106.19L260.4 106.25" stroke="#8c6e14" stroke-width="1.00"/>
<path d="M46.8 93.33L57.5 111.78L68.2 116.78L78.8 119.05L89.5 120.20L100.2 120.78L110.9 121.08L121.6 121.24L132.2 121.32L142.9 121.36L260.4 121.40" stroke="#146e14" stroke-width="1.00"/>
<path d="M46.8 93.33L57.5 111.85L68.2 117.33L78.8 120.37L89.5 122.26L100.2 123.46L110.9 124.21L121.6 124.68L132.2 124.99L142.9 125.18L153.6 125.29L164.3 125.37L175.0 125.42L185.6 125.45L260.4 125.50" stroke="#78d21e" stroke-width="1.00"/>
<path d="M46.8 93.33L57.5 111.59L68.2 117.91L78.8 121.38L89.5 123.43L100.2 124.66L110.9 125.39L121.6 125.83L132.2 126.09L142.9 126.24L153.6 126.34L164.3 126.39L175.0 126.43L260.4 126.47" stroke="#d2a000" stroke-width="1.00"/>
<path d="M46.8 93.33L57.5 98.84L68.2 100.75L78.8 101.81L89.5 102.45L100.2 102.83L110.9 103.06L121.6 103.20L132.2 103.28L142.9 103.33L153.6 103.36L260.4 103.41" stroke="#00b4d2" stroke-width="1.00"/>
<path d="M46.8 93.33L57.5 89.57L68.2 87.31L78.8 86.01L89.5 85.26L100.2 84.85L110.9 84.62L121.6 84.49L132.2 84.41L142.9 84.37L260.4 84.33" stroke="#0050e6" stroke-width="1.00"/>
<path d="M46.8 93.33L57.5 96.08L68.2 97.03L78.8 97.55L89.5 97.86L100.2 98.05L110.9 98.16L121.6 98.23L132.2 98.27L260.4 98.32" stroke="#beb400" stroke-width="1.00"/>
<path d="M46.8 93.33L57.5 99.61L68.2 102.04L78.8 103.52L89.5 104.47L100.2 105.09L110.9 105.50L121.6 105.76L132.2 105.93L142.9 106.04L153.6 106.11L164.3 106.16L175.0 106.19L260.4 106.25" stroke="#8c6e14" stroke-width="1.00"/>
<path d="M46.8 93.33L57.5 93.87L68.2 94.06L78.8 94.16L89.5 94.22L100.2 94.25L260.4 94.30" stroke="#5a3232" stroke-width="1.00"/>
<path d="M46.8 93.33L57.5 92.67L68.2 92.26L78.8 92.00L89.5 91.85L100.2 91.75L110.9 91.69L121.6 91.65L260.4 91.59" stroke="#3c9696" stroke-width="1.00"/>
<path d="M46.8 93.33L57.5 107.20L68.2 112.02L78.8 114.67L89.5 116.25L100.2 117.20L110.9 117.77L121.6 118.11L132.2 118.32L142.9 118.44L153.6 118.51L164.3 118.56L260.4 118.62" stroke="#14aa78" stroke-width="1.05"/>
<path d="M46.8 93.33L57.5 90.67L68.2 89.00L78.8 87.98L89.5 87.36L100.2 86.99L110.9 86.76L121.6 86.63L132.2 86.55L142.9 86.51L153.6 86.48L260.4 86.44" stroke="#f0320a" stroke-width="1.00"/>
<path d="M46.8 93.33L57.5 113.59L68.2 120.55L78.8 124.29L89.5 126.46L100.2 127.72L110.9 128.46L121.6 128.89L132.2 129.14L142.9 129.29L153.6 129.38L164.3 129.43L175.0 129.46L260.4 129.50" stroke="#dcd200" stroke-width="1.00"/>
<path d="M46.8 93.33L57.5 89.29L68.2 86.66L78.8 85.01L89.5 83.98L100.2 83.36L110.9 82.99L121.6 82.76L132.2 82.63L142.9 82.54L153.6 82.50L164.3 82.47L260.4 82.43" stroke="#aaaa3c" stroke-width="1.15"/>
<path d="M46.8 93.33L57.5 99.23L68.2 100.86L78.8 101.64L89.5 102.05L100.2 102.28L110.9 102.40L121.6 102.47L132.2 102.51L260.4 102.55" stroke="#c800c8" stroke-width="1.00"/>
<path d="M46.8 93.33L57.5 103.15L68.2 106.22L78.8 107.71L89.5 108.50L100.2 108.92L110.9 109.14L121.6 109.26L132.2 109.33L260.4 109.40" stroke="#e00096" stroke-width="1.00"/>
<path d="M46.8 93.33L57.5 83.92L68.2 76.80L78.8 71.76L89.5 68.35L100.2 66.12L110.9 64.69L121.6 63.79L132.2 63.22L142.9 62.87L153.6 62.65L164.3 62.52L175.0 62.44L185.6 62.38L196.3 62.35L260.4 62.30" stroke="#bfbf00" stroke-width="1.20"/>
<path d="M46.8 93.33L57.5 84.83L68.2 78.68L78.8 74.52L89.5 71.81L100.2 70.10L110.9 69.04L121.6 68.40L132.2 68.00L142.9 67.76L153.6 67.62L164.3 67.53L175.0 67.48L185.6 67.45L260.4 67.40" stroke="#1414ff" stroke-width="1.20"/>
<path d="M46.8 93.33L57.5 99.17L68.2 101.95L78.8 103.69L89.5 104.82L100.2 105.56L110.9 106.05L121.6 106.37L132.2 106.57L142.9 106.71L153.6 106.80L164.3 106.85L175.0 106.89L185.6 106.92L260.4 106.96" stroke="#647814" stroke-width="1.00"/>
<path d="M46.8 93.33L57.5 111.08L68.2 117.49L78.8 120.76L89.5 122.52L100.2 123.48L110.9 124.00L121.6 124.28L132.2 124.43L142.9 124.51L153.6 124.56L260.4 124.61" stroke="#0064e6" stroke-width="1.00"/>
<path d="M46.8 93.33L57.5 114.32L68.2 121.66L78.8 125.80L89.5 128.33L100.2 129.89L110.9 130.85L121.6 131.45L132.2 131.81L142.9 132.04L153.6 132.18L164.3 132.26L175.0 132.32L185.6 132.35L260.4 132.40" stroke="#005a3c" stroke-width="1.00"/>
<path d="M46.8 93.33L57.5 98.90L68.2 101.25L78.8 102.71L89.5 103.67L100.2 104.31L110.9 104.73L121.6 105.00L132.2 105.19L142.9 105.31L153.6 105.39L164.3 105.45L175.0 105.48L185.6 105.50L260.4 105.55" stroke="#8c6e14" stroke-width="1.00"/>
<path d="M46.8 93.33L57.5 101.55L68.2 104.42L78.8 106.02L89.5 106.99L100.2 107.58L110.9 107.94L121.6 108.16L132.2 108.29L142.9 108.37L153.6 108.42L164.3 108.45L260.4 108.50" stroke="#e00096" stroke-width="1.00"/>
<path d="M46.8 93.33L57.5 89.46L68.2 86.65L78.8 84.66L89.5 83.27L100.2 82.32L110.9 81.67L121.6 81.24L132.2 80.94L142.9 80.75L153.6 80.62L164.3 80.53L175.0 80.47L185.6 80.43L196.3 80.40L260.4 80.35" stroke="#1e3cff" stroke-width="1.00"/>
<path d="M46.8 93.33L57.5 109.93L68.2 115.63L78.8 118.72L89.5 120.51L100.2 121.56L110.9 122.17L121.6 122.54L132.2 122.75L142.9 122.87L153.6 122.95L164.3 122.99L260.4 123.05" stroke="#d200c8" stroke-width="1.00"/>
<path d="M46.8 93.33L57.5 117.98L68.2 126.55L78.8 131.31L89.5 134.15L100.2 135.87L110.9 136.91L121.6 137.54L132.2 137.92L142.9 138.15L153.6 138.29L164.3 138.37L175.0 138.42L185.6 138.45L260.4 138.50" stroke="#cd3cdc" stroke-width="1.00"/>
<path d="M46.8 93.33L57.5 96.75L68.2 97.91L78.8 98.53L89.5 98.88L100.2 99.09L110.9 99.21L121.6 99.28L132.2 99.32L260.4 99.37" stroke="#008c00" stroke-width="1.00"/>
<path d="M46.8 93.33L57.5 118.37L68.2 127.13L78.8 132.09L89.5 135.12L100.2 137.00L110.9 138.15L121.6 138.87L132.2 139.31L142.9 139.58L153.6 139.75L164.3 139.86L175.0 139.92L185.6 139.96L260.4 140.02" stroke="#bedc00" stroke-width="1.00"/>
<path d="M46.8 93.33L57.5 91.06L68.2 89.62L78.8 88.72L89.5 88.17L100.2 87.83L110.9 87.63L121.6 87.50L132.2 87.43L142.9 87.38L153.6 87.35L260.4 87.31" stroke="#f0320a" stroke-width="1.00"/>
<path d="M46.8 93.33L57.5 88.02L68.2 84.61L78.8 82.52L89.5 81.28L100.2 80.55L110.9 80.13L121.6 79.88L132.2 79.74L142.9 79.66L153.6 79.61L260.4 79.55" stroke="#1e3cff" stroke-width="1.00"/>
<path d="M46.8 93.33L57.5 95.51L68.2 96.33L78.8 96.79L89.5 97.07L100.2 97.24L110.9 97.34L121.6 97.40L132.2 97.44L260.4 97.50" stroke="#0000e6" stroke-width="1.00"/>
<path d="M46.8 93.33L57.5 103.75L68.2 108.64L78.8 111.72L89.5 113.73L100.2 115.05L110.9 115.92L121.6 116.49L132.2 116.86L142.9 117.11L153.6 117.27L164.3 117.37L175.0 117.44L185.6 117.49L196.3 117.52L260.4 117.57" stroke="#14aa78" stroke-width="1.00"/>
<path d="M46.8 93.33L57.5 91.36L68.2 90.11L78.8 89.33L89.5 88.84L100.2 88.55L110.9 88.36L121.6 88.25L132.2 88.18L142.9 88.14L260.4 88.08" stroke="#eb0082" stroke-width="1.00"/>
<path d="M46.8 93.33L57.5 86.28L68.2 81.19L78.8 77.70L89.5 75.39L100.2 73.89L110.9 72.94L121.6 72.34L132.2 71.97L142.9 71.73L153.6 71.59L164.3 71.50L175.0 71.44L185.6 71.41L260.4 71.35" stroke="#1414ff" stroke-width="1.00"/>
<path d="M46.8 93.33L57.5 90.38L68.2 88.49L78.8 87.30L89.5 86.56L100.2 86.12L110.9 85.84L121.6 85.68L132.2 85.58L142.9 85.52L153.6 85.48L260.4 85.43" stroke="#dcb400" stroke-width="1.15"/>
<path d="M46.8 93.33L57.5 114.93L68.2 120.86L78.8 123.59L89.5 124.98L100.2 125.70L110.9 126.07L121.6 126.26L132.2 126.37L142.9 126.42L260.4 126.47" stroke="#d2a000" stroke-width="1.00"/>
<path d="M46.8 93.33L57.5 91.52L68.2 90.40L78.8 89.73L89.5 89.32L100.2 89.08L110.9 88.94L121.6 88.85L132.2 88.80L142.9 88.77L260.4 88.73" stroke="#eb0082" stroke-width="1.00"/>
<path d="M46.8 93.33L57.5 108.97L68.2 116.34L78.8 121.05L89.5 124.18L100.2 126.27L110.9 127.67L121.6 128.60L132.2 129.22L142.9 129.64L153.6 129.92L164.3 130.10L175.0 130.23L185.6 130.31L196.3 130.36L207.0 130.40L260.4 130.47" stroke="#1414aa" stroke-width="1.00"/>
<path d="M46.8 93.33L57.5 88.64L68.2 85.41L78.8 83.28L89.5 81.90L100.2 81.02L110.9 80.47L121.6 80.12L132.2 79.90L142.9 79.77L153.6 79.69L164.3 79.63L175.0 79.60L260.4 79.55" stroke="#1e3cff" stroke-width="1.00"/>
<path d="M46.8 93.33L57.5 92.39L68.2 91.81L78.8 91.44L89.5 91.21L100.2 91.07L110.9 90.98L121.6 90.93L132.2 90.90L260.4 90.84" stroke="#0000dc" stroke-width="1.00"/>
<path d="M46.8 93.33L57.5 111.12L68.2 117.02L78.8 120.05L89.5 121.72L100.2 122.65L110.9 123.18L121.6 123.47L132.2 123.63L142.9 123.72L153.6 123.77L260.4 123.84" stroke="#0064e6" stroke-width="1.00"/>
<path d="M46.8 93.33L57.5 109.25L68.2 114.77L78.8 117.80L89.5 119.59L100.2 120.66L110.9 121.30L121.6 121.68L132.2 121.91L142.9 122.05L153.6 122.13L164.3 122.18L175.0 122.21L260.4 122.25" stroke="#d200c8" stroke-width="1.00"/>
<path d="M46.8 93.33L57.5 118.03L68.2 124.80L78.8 128.28L89.5 130.30L100.2 131.50L110.9 132.21L121.6 132.63L132.2 132.88L142.9 133.02L153.6 133.11L164.3 133.16L175.0 133.19L260.4 133.24" stroke="#0000ff" stroke-width="1.00"/>
<path d="M46.8 93.33L57.5 91.26L68.2 90.11L78.8 89.47L89.5 89.13L100.2 88.94L110.9 88.84L121.6 88.79L260.4 88.73" stroke="#eb0082" stroke-width="1.00"/>
<path d="M46.8 93.33L57.5 106.90L68.2 110.86L78.8 113.02L89.5 114.34L100.2 115.15L110.9 115.66L121.6 115.97L132.2 116.16L142.9 116.28L153.6 116.35L164.3 116.40L175.0 116.43L260.4 116.47" stroke="#aab400" stroke-width="1.00"/>
<path d="M46.8 93.33L57.5 104.79L68.2 108.61L78.8 110.49L89.5 111.47L100.2 112.00L110.9 112.27L121.6 112.42L132.2 112.50L142.9 112.54L260.4 112.58" stroke="#82d228" stroke-width="1.00"/>
<path d="M46.8 93.33L57.5 94.91L68.2 95.64L78.8 96.08L89.5 96.35L100.2 96.52L110.9 96.62L121.6 96.69L132.2 96.73L142.9 96.76L260.4 96.80" stroke="#0000e6" stroke-width="1.00"/>
<path d="M46.8 93.33L57.5 92.06L68.2 91.29L78.8 90.82L89.5 90.54L100.2 90.37L110.9 90.27L121.6 90.21L132.2 90.18L260.4 90.13" stroke="#0000dc" stroke-width="1.00"/>
<path d="M46.8 93.33L57.5 89.39L68.2 86.65L78.8 84.80L89.5 83.57L100.2 82.76L110.9 82.24L121.6 81.90L132.2 81.69L142.9 81.55L153.6 81.46L164.3 81.40L175.0 81.36L260.4 81.30" stroke="#00826e" stroke-width="1.00"/>
<path d="M46.8 93.33L57.5 99.21L68.2 101.70L78.8 103.06L89.5 103.83L100.2 104.27L110.9 104.51L121.6 104.66L132.2 104.74L142.9 104.78L260.4 104.84" stroke="#00b4d2" stroke-width="1.00"/>
<path d="M46.8 93.33L57.5 102.18L68.2 105.24L78.8 106.93L89.5 107.92L100.2 108.52L110.9 108.87L121.6 109.08L132.2 109.21L142.9 109.29L153.6 109.33L260.4 109.40" stroke="#e00096" stroke-width="1.00"/>
<path d="M46.8 93.33L57.5 112.77L68.2 120.16L78.8 123.96L89.5 126.01L100.2 127.12L110.9 127.73L121.6 128.06L132.2 128.24L142.9 128.33L153.6 128.39L260.4 128.45" stroke="#dc286e" stroke-width="1.00"/>
<path d="M46.8 93.33L57.5 93.78L68.2 93.98L78.8 94.10L89.5 94.17L100.2 94.22L110.9 94.25L260.4 94.30" stroke="#5a3232" stroke-width="1.00"/>
<path d="M46.8 93.33L57.5 95.24L68.2 95.91L78.8 96.27L89.5 96.49L100.2 96.61L110.9 96.69L121.6 96.73L260.4 96.80" stroke="#0000e6" stroke-width="1.00"/>
<path d="M46.8 93.33L57.5 91.89L68.2 90.96L78.8 90.38L89.5 90.02L100.2 89.79L110.9 89.64L121.6 89.55L132.2 89.50L142.9 89.46L260.4 89.41" stroke="#0000dc" stroke-width="1.00"/>
<path d="M46.8 93.33L57.5 90.82L68.2 89.07L78.8 87.87L89.5 87.05L100.2 86.51L110.9 86.14L121.6 85.90L132.2 85.74L142.9 85.63L153.6 85.56L164.3 85.52L175.0 85.48L260.4 85.43" stroke="#dcb400" stroke-width="1.00"/>
<path d="M46.8 93.33L57.5 103.52L68.2 107.82L78.8 110.20L89.5 111.57L100.2 112.35L110.9 112.81L121.6 113.07L132.2 113.22L142.9 113.31L153.6 113.36L260.4 113.42" stroke="#aa32c8" stroke-width="1.00"/>
<path d="M46.8 93.33L57.5 81.10L68.2 71.37L78.8 64.23L89.5 59.31L100.2 56.05L110.9 53.96L121.6 52.64L132.2 51.82L142.9 51.31L153.6 51.00L164.3 50.81L175.0 50.69L185.6 50.61L196.3 50.57L260.4 50.50" stroke="#00bfbf" stroke-width="1.20"/>
<path d="M46.8 93.33L57.5 103.95L68.2 108.07L78.8 110.59L89.5 112.23L100.2 113.31L110.9 114.02L121.6 114.48L132.2 114.79L142.9 114.99L153.6 115.12L164.3 115.21L175.0 115.27L185.6 115.30L196.3 115.33L260.4 115.37" stroke="#006e00" stroke-width="1.00"/>
<path d="M46.8 93.33L57.5 105.38L68.2 109.57L78.8 111.88L89.5 113.27L100.2 114.10L110.9 114.61L121.6 114.91L132.2 115.10L142.9 115.21L153.6 115.27L164.3 115.31L260.4 115.37" stroke="#006e00" stroke-width="1.05"/>
<path d="M46.8 93.33L57.5 89.37L68.2 86.76L78.8 85.10L89.5 84.06L100.2 83.42L110.9 83.03L121.6 82.79L132.2 82.65L142.9 82.56L153.6 82.51L164.3 82.47L260.4 82.43" stroke="#aaaa3c" stroke-width="1.00"/>
<path d="M46.8 93.33L57.5 104.60L68.2 108.47L78.8 110.55L89.5 111.75L100.2 112.45L110.9 112.85L121.6 113.09L132.2 113.23L142.9 113.31L153.6 113.36L260.4 113.42" stroke="#aa32c8" stroke-width="1.00"/>
<path d="M46.8 93.33L57.5 103.96L68.2 107.04L78.8 108.77L89.5 109.87L100.2 110.58L110.9 111.03L121.6 111.32L132.2 111.51L142.9 111.63L153.6 111.71L164.3 111.76L175.0 111.79L260.4 111.85" stroke="#82d228" stroke-width="1.00"/>
<path d="M46.8 93.33L57.5 108.92L68.2 114.30L78.8 117.22L89.5 118.93L100.2 119.94L110.9 120.54L121.6 120.89L132.2 121.10L142.9 121.22L153.6 121.29L164.3 121.34L260.4 121.40" stroke="#146e14" stroke-width="1.00"/>
<path d="M46.8 93.33L57.5 89.83L68.2 87.49L78.8 85.98L89.5 85.01L100.2 84.40L110.9 84.02L121.6 83.79L132.2 83.64L142.9 83.55L153.6 83.49L164.3 83.46L260.4 83.40" stroke="#008282" stroke-width="0.80"/>
<path d="M46.8 93.33L57.5 116.48L68.2 124.43L78.8 128.69L89.5 131.14L100.2 132.57L110.9 133.41L121.6 133.90L132.2 134.18L142.9 134.34L153.6 134.44L164.3 134.50L175.0 134.53L260.4 134.57" stroke="#640078" stroke-width="0.65"/>
<path d="M46.8 93.33L57.5 87.80L68.2 84.03L78.8 81.56L89.5 79.99L100.2 79.01L110.9 78.40L121.6 78.03L132.2 77.80L142.9 77.66L153.6 77.58L164.3 77.53L175.0 77.50L260.4 77.45" stroke="#5a5a5a" stroke-width="0.70"/>
<path d="M46.8 93.33L57.5 116.79L68.2 124.96L78.8 129.52L89.5 132.27L100.2 133.93L110.9 134.95L121.6 135.57L132.2 135.94L142.9 136.17L153.6 136.31L164.3 136.39L175.0 136.45L185.6 136.48L260.4 136.52" stroke="#323c3c" stroke-width="0.75"/>
<path d="M46.8 93.33L57.5 104.67L68.2 108.63L78.8 110.86L89.5 112.21L100.2 113.05L110.9 113.56L121.6 113.87L132.2 114.07L142.9 114.19L153.6 114.26L164.3 114.30L175.0 114.33L260.4 114.37" stroke="#c86446" stroke-width="0.95"/>
</g>
<rect x="46.8" y="20.5" width="213.59999999999997" height="145.65" fill="none" stroke="#4a4a4a" stroke-width="1"/>
<path d="M46.80 166.15v-2.3M46.80 20.5v2.3M100.20 166.15v-2.3M100.20 20.5v2.3M153.60 166.15v-2.3M153.60 20.5v2.3M207.00 166.15v-2.3M207.00 20.5v2.3M260.40 166.15v-2.3M260.40 20.5v2.3M46.8 20.50h2.3M260.4 20.50h-2.3M46.8 56.91h2.3M260.4 56.91h-2.3M46.8 93.33h2.3M260.4 93.33h-2.3M46.8 129.74h2.3M260.4 129.74h-2.3M46.8 166.15h2.3M260.4 166.15h-2.3" stroke="#4a4a4a" stroke-width="1" fill="none"/>
<text x="46.8" y="183.85" font-size="12.5" text-anchor="middle">0</text>
<text x="100.2" y="183.85" font-size="12.5" text-anchor="middle">5</text>
<text x="153.6" y="183.85" font-size="12.5" text-anchor="middle">10</text>
<text x="207.0" y="183.85" font-size="12.5" text-anchor="middle">15</text>
<text x="260.4" y="183.85" font-size="12.5" text-anchor="middle">20</text>
<text x="42.599999999999994" y="25.5" font-size="12.5" text-anchor="end">4</text>
<text x="42.599999999999994" y="61.91" font-size="12.5" text-anchor="end">3</text>
<text x="42.599999999999994" y="98.33" font-size="12.5" text-anchor="end">2</text>
<text x="42.599999999999994" y="134.74" font-size="12.5" text-anchor="end">1</text>
<text x="42.599999999999994" y="171.15" font-size="12.5" text-anchor="end">0</text>
<text x="154.0" y="202.55" font-size="15.3" text-anchor="middle">Time</text>
<text x="29.4" y="93.325" font-size="15.3" text-anchor="middle" transform="rotate(-90 29.4 93.325)">x(t)</text>
<text x="46.9" y="14.5" font-size="15.0" text-anchor="start">(A)</text>
<clipPath id="cp2"><rect x="326.7" y="20.5" width="213.7" height="145.65"/></clipPath>
<g clip-path="url(#cp2)" fill="none">
<path d="M326.7 111.53L337.4 85.11L348.1 79.42L358.8 76.58L369.4 74.73L380.1 73.49L390.8 72.66L401.5 72.09L412.2 71.70L422.9 71.44L433.5 71.27L444.2 71.15L454.9 71.07L465.6 71.01L476.3 70.98L487.0 70.95L540.4 70.91" stroke="#3c3cfa" stroke-width="1.70"/>
<path d="M326.7 111.53L337.4 90.60L348.1 86.08L358.8 83.84L369.4 82.40L380.1 81.44L390.8 80.80L401.5 80.37L412.2 80.08L422.9 79.89L433.5 79.76L444.2 79.67L454.9 79.62L465.6 79.58L476.3 79.55L540.4 79.50" stroke="#5a5046" stroke-width="2.30"/>
<path d="M326.7 111.53L337.4 116.38L348.1 119.61L358.8 121.72L369.4 123.09L380.1 123.97L390.8 124.53L401.5 124.88L412.2 125.11L422.9 125.25L433.5 125.34L444.2 125.40L454.9 125.44L540.4 125.50" stroke="#961eaa" stroke-width="1.30"/>
<path d="M326.7 111.53L337.4 92.53L348.1 88.45L358.8 86.40L369.4 85.06L380.1 84.15L390.8 83.53L401.5 83.11L412.2 82.82L422.9 82.62L433.5 82.49L444.2 82.40L454.9 82.33L465.6 82.29L476.3 82.26L540.4 82.21" stroke="#008cdc" stroke-width="1.30"/>
<path d="M326.7 111.53L337.4 86.15L348.1 80.69L358.8 77.96L369.4 76.19L380.1 75.01L390.8 74.21L401.5 73.67L412.2 73.31L422.9 73.06L433.5 72.89L444.2 72.78L454.9 72.71L465.6 72.66L476.3 72.62L487.0 72.60L540.4 72.56" stroke="#1e3cf0" stroke-width="2.20"/>
<path d="M326.7 111.53L337.4 100.40L348.1 97.87L358.8 96.63L369.4 95.86L380.1 95.37L390.8 95.06L401.5 94.86L412.2 94.73L422.9 94.65L433.5 94.59L444.2 94.56L540.4 94.50" stroke="#c8aa00" stroke-width="2.30"/>
<path d="M326.7 111.53L337.4 109.02L348.1 108.27L358.8 107.87L369.4 107.63L380.1 107.49L390.8 107.40L401.5 107.34L412.2 107.31L540.4 107.25" stroke="#bebe00" stroke-width="1.20"/>
<path d="M326.7 111.53L337.4 107.60L348.1 106.51L358.8 105.92L369.4 105.56L380.1 105.32L390.8 105.17L401.5 105.07L412.2 105.00L422.9 104.96L433.5 104.94L540.4 104.89" stroke="#1ed2aa" stroke-width="1.33"/>
<path d="M326.7 111.53L337.4 107.57L348.1 106.47L358.8 105.90L369.4 105.57L380.1 105.37L390.8 105.24L401.5 105.17L412.2 105.12L422.9 105.09L540.4 105.05" stroke="#bebe00" stroke-width="1.20"/>
<path d="M326.7 111.53L337.4 120.80L348.1 127.16L358.8 131.38L369.4 134.11L380.1 135.84L390.8 136.93L401.5 137.62L412.2 138.05L422.9 138.31L433.5 138.48L444.2 138.58L454.9 138.65L465.6 138.69L540.4 138.75" stroke="#a09614" stroke-width="2.20"/>
<path d="M326.7 111.53L337.4 86.76L348.1 81.42L358.8 78.76L369.4 77.06L380.1 75.92L390.8 75.16L401.5 74.64L412.2 74.30L422.9 74.07L433.5 73.92L444.2 73.81L454.9 73.74L465.6 73.70L476.3 73.66L540.4 73.61" stroke="#5082fa" stroke-width="2.10"/>
<path d="M326.7 111.53L337.4 114.59L348.1 116.61L358.8 117.93L369.4 118.78L380.1 119.33L390.8 119.68L401.5 119.90L412.2 120.05L422.9 120.14L433.5 120.20L444.2 120.23L454.9 120.26L540.4 120.30" stroke="#bebe00" stroke-width="1.30"/>
<path d="M326.7 111.53L337.4 119.83L348.1 125.71L358.8 129.74L369.4 132.45L380.1 134.24L390.8 135.42L401.5 136.19L412.2 136.69L422.9 137.01L433.5 137.22L444.2 137.35L454.9 137.44L465.6 137.50L476.3 137.53L540.4 137.60" stroke="#e6283c" stroke-width="2.30"/>
<path d="M326.7 111.53L337.4 110.96L348.1 110.76L358.8 110.66L369.4 110.60L380.1 110.56L540.4 110.50" stroke="#148214" stroke-width="2.30"/>
<path d="M326.7 111.53L337.4 85.64L348.1 80.08L358.8 77.29L369.4 75.47L380.1 74.23L390.8 73.39L401.5 72.82L412.2 72.43L422.9 72.17L433.5 71.99L444.2 71.86L454.9 71.78L465.6 71.72L476.3 71.68L487.0 71.66L540.4 71.61" stroke="#9696ff" stroke-width="1.90"/>
<path d="M326.7 111.53L337.4 109.36L348.1 108.70L358.8 108.34L369.4 108.12L380.1 107.98L390.8 107.90L401.5 107.84L412.2 107.81L540.4 107.75" stroke="#a07846" stroke-width="2.00"/>
<path d="M326.7 111.53L337.4 117.57L348.1 121.67L358.8 124.40L369.4 126.19L380.1 127.34L390.8 128.09L401.5 128.56L412.2 128.87L422.9 129.06L433.5 129.18L444.2 129.26L454.9 129.31L465.6 129.34L540.4 129.40" stroke="#00aa3c" stroke-width="1.90"/>
<path d="M326.7 111.53L337.4 93.18L348.1 89.21L358.8 87.25L369.4 86.01L380.1 85.19L390.8 84.66L401.5 84.30L412.2 84.06L422.9 83.91L433.5 83.80L444.2 83.73L454.9 83.69L465.6 83.66L540.4 83.60" stroke="#bebe00" stroke-width="2.30"/>
<path d="M326.7 111.53L337.4 102.03L348.1 99.83L358.8 98.74L369.4 98.07L380.1 97.64L390.8 97.36L401.5 97.18L412.2 97.07L422.9 96.99L433.5 96.95L444.2 96.92L540.4 96.86" stroke="#dc0032" stroke-width="1.33"/>
<path d="M326.7 111.53L337.4 112.84L348.1 113.62L358.8 114.09L369.4 114.37L380.1 114.54L390.8 114.63L401.5 114.69L412.2 114.73L540.4 114.77" stroke="#006e1e" stroke-width="1.25"/>
<path d="M326.7 111.53L337.4 118.31L348.1 122.89L358.8 125.89L369.4 127.83L380.1 129.07L390.8 129.85L401.5 130.34L412.2 130.65L422.9 130.85L433.5 130.97L444.2 131.05L454.9 131.09L465.6 131.12L540.4 131.17" stroke="#00d2c8" stroke-width="1.35"/>
<path d="M326.7 111.53L337.4 119.09L348.1 124.24L358.8 127.64L369.4 129.85L380.1 131.27L390.8 132.17L401.5 132.74L412.2 133.10L422.9 133.32L433.5 133.46L444.2 133.55L454.9 133.61L465.6 133.64L540.4 133.70" stroke="#00aa96" stroke-width="2.10"/>
<path d="M326.7 111.53L337.4 115.53L348.1 118.18L358.8 119.90L369.4 121.02L380.1 121.73L390.8 122.18L401.5 122.47L412.2 122.66L422.9 122.77L433.5 122.85L444.2 122.89L454.9 122.92L540.4 122.97" stroke="#e6dc00" stroke-width="1.25"/>
<path d="M326.7 111.53L337.4 104.40L348.1 102.71L358.8 101.84L369.4 101.28L380.1 100.91L390.8 100.67L401.5 100.51L412.2 100.41L422.9 100.34L433.5 100.29L444.2 100.26L540.4 100.20" stroke="#ff0000" stroke-width="1.30"/>
<path d="M326.7 111.53L337.4 119.71L348.1 125.44L358.8 129.35L369.4 131.95L380.1 133.66L390.8 134.77L401.5 135.49L412.2 135.95L422.9 136.25L433.5 136.44L444.2 136.57L454.9 136.65L465.6 136.70L476.3 136.73L540.4 136.78" stroke="#0000f0" stroke-width="1.53"/>
<path d="M326.7 111.53L337.4 121.12L348.1 127.85L358.8 132.42L369.4 135.44L380.1 137.41L390.8 138.68L401.5 139.49L412.2 140.01L422.9 140.33L433.5 140.54L444.2 140.67L454.9 140.76L465.6 140.81L476.3 140.84L540.4 140.90" stroke="#82288c" stroke-width="1.50"/>
<path d="M326.7 111.53L337.4 113.97L348.1 115.46L358.8 116.36L369.4 116.90L380.1 117.22L390.8 117.42L401.5 117.53L412.2 117.60L422.9 117.64L540.4 117.70" stroke="#c800aa" stroke-width="2.30"/>
<path d="M326.7 111.53L337.4 117.66L348.1 121.85L358.8 124.67L369.4 126.52L380.1 127.73L390.8 128.51L401.5 129.02L412.2 129.34L422.9 129.55L433.5 129.69L444.2 129.77L454.9 129.83L465.6 129.86L540.4 129.92" stroke="#00d2c8" stroke-width="1.35"/>
<path d="M326.7 111.53L337.4 89.22L348.1 84.39L358.8 82.01L369.4 80.49L380.1 79.50L390.8 78.83L401.5 78.39L412.2 78.10L422.9 77.91L433.5 77.78L444.2 77.69L454.9 77.64L465.6 77.60L476.3 77.57L540.4 77.53" stroke="#0000f0" stroke-width="1.45"/>
<path d="M326.7 111.53L337.4 118.42L348.1 123.10L358.8 126.20L369.4 128.21L380.1 129.51L390.8 130.33L401.5 130.85L412.2 131.19L422.9 131.39L433.5 131.53L444.2 131.61L454.9 131.66L465.6 131.69L540.4 131.75" stroke="#006e32" stroke-width="2.00"/>
<path d="M326.7 111.53L337.4 116.33L348.1 119.58L358.8 121.74L369.4 123.15L380.1 124.08L390.8 124.67L401.5 125.06L412.2 125.31L422.9 125.46L433.5 125.57L444.2 125.63L454.9 125.67L465.6 125.70L540.4 125.75" stroke="#14a014" stroke-width="1.40"/>
<path d="M326.7 111.53L337.4 82.08L348.1 75.65L358.8 72.67L369.4 70.93L380.1 69.88L390.8 69.23L401.5 68.84L412.2 68.60L422.9 68.45L433.5 68.37L444.2 68.31L454.9 68.28L540.4 68.23" stroke="#820078" stroke-width="1.15"/>
<path d="M326.7 111.53L337.4 114.30L348.1 116.08L358.8 117.21L369.4 117.92L380.1 118.36L390.8 118.64L401.5 118.81L412.2 118.92L422.9 118.99L433.5 119.03L444.2 119.06L540.4 119.10" stroke="#bebe00" stroke-width="1.30"/>
<path d="M326.7 111.53L337.4 113.38L348.1 114.56L358.8 115.30L369.4 115.77L380.1 116.06L390.8 116.25L401.5 116.36L412.2 116.43L422.9 116.48L433.5 116.50L540.4 116.55" stroke="#5a00b4" stroke-width="2.20"/>
<path d="M326.7 111.53L337.4 101.85L348.1 99.61L358.8 98.50L369.4 97.81L380.1 97.37L390.8 97.09L401.5 96.91L412.2 96.80L422.9 96.72L433.5 96.67L444.2 96.64L540.4 96.59" stroke="#007878" stroke-width="1.43"/>
<path d="M326.7 111.53L337.4 97.12L348.1 94.00L358.8 92.46L369.4 91.48L380.1 90.84L390.8 90.41L401.5 90.12L412.2 89.94L422.9 89.81L433.5 89.73L444.2 89.67L454.9 89.63L465.6 89.61L540.4 89.57" stroke="#0000dc" stroke-width="1.53"/>
<path d="M326.7 111.53L337.4 111.85L348.1 112.04L358.8 112.16L369.4 112.24L380.1 112.28L390.8 112.31L540.4 112.35" stroke="#7850dc" stroke-width="2.20"/>
<path d="M326.7 111.53L337.4 118.88L348.1 123.83L358.8 127.07L369.4 129.16L380.1 130.48L390.8 131.31L401.5 131.83L412.2 132.16L422.9 132.36L433.5 132.49L444.2 132.57L454.9 132.62L465.6 132.65L540.4 132.70" stroke="#3246be" stroke-width="2.10"/>
<path d="M326.7 111.53L337.4 91.63L348.1 87.34L358.8 85.20L369.4 83.82L380.1 82.90L390.8 82.28L401.5 81.86L412.2 81.58L422.9 81.39L433.5 81.26L444.2 81.18L454.9 81.12L465.6 81.08L476.3 81.05L540.4 81.01" stroke="#008cdc" stroke-width="1.30"/>
<path d="M326.7 111.53L337.4 106.76L348.1 105.49L358.8 104.83L369.4 104.41L380.1 104.14L390.8 103.97L401.5 103.86L412.2 103.79L422.9 103.74L433.5 103.72L540.4 103.66" stroke="#1ed2aa" stroke-width="1.33"/>
<path d="M326.7 111.53L540.4 111.45" stroke="#823c82" stroke-width="1.80"/>
<path d="M326.7 111.53L337.4 87.76L348.1 82.61L358.8 80.09L369.4 78.51L380.1 77.48L390.8 76.82L401.5 76.38L412.2 76.09L422.9 75.90L433.5 75.78L444.2 75.70L454.9 75.65L465.6 75.61L540.4 75.55" stroke="#beb41e" stroke-width="2.00"/>
<path d="M326.7 111.53L337.4 94.07L348.1 83.32L358.8 76.71L369.4 72.64L380.1 70.13L390.8 68.59L401.5 67.64L412.2 67.06L422.9 66.70L433.5 66.48L444.2 66.34L454.9 66.26L465.6 66.21L476.3 66.18L540.4 66.13" stroke="#820078" stroke-width="1.15"/>
<path d="M326.7 111.53L337.4 99.11L348.1 96.36L358.8 94.99L369.4 94.11L380.1 93.54L390.8 93.15L401.5 92.90L412.2 92.73L422.9 92.62L433.5 92.55L444.2 92.50L454.9 92.46L465.6 92.44L540.4 92.40" stroke="#e66e00" stroke-width="2.10"/>
<path d="M326.7 111.53L337.4 91.43L348.1 87.11L358.8 84.94L369.4 83.53L380.1 82.56L390.8 81.91L401.5 81.46L412.2 81.16L422.9 80.95L433.5 80.81L444.2 80.71L454.9 80.64L465.6 80.60L476.3 80.57L540.4 80.51" stroke="#781e96" stroke-width="1.90"/>
<path d="M326.7 111.53L337.4 119.42L348.1 124.80L358.8 128.36L369.4 130.67L380.1 132.15L390.8 133.08L401.5 133.68L412.2 134.05L422.9 134.28L433.5 134.43L444.2 134.52L454.9 134.58L465.6 134.61L540.4 134.67" stroke="#d2be00" stroke-width="2.05"/>
<path d="M326.7 111.53L337.4 87.42L348.1 82.22L358.8 79.63L369.4 77.97L380.1 76.86L390.8 76.12L401.5 75.62L412.2 75.28L422.9 75.06L433.5 74.91L444.2 74.81L454.9 74.74L465.6 74.69L476.3 74.66L540.4 74.61" stroke="#1414e6" stroke-width="2.10"/>
<path d="M326.7 111.53L337.4 94.87L348.1 91.25L358.8 89.50L369.4 88.41L380.1 87.71L390.8 87.26L401.5 86.96L412.2 86.77L422.9 86.65L433.5 86.57L444.2 86.52L454.9 86.49L540.4 86.43" stroke="#e6141e" stroke-width="1.45"/>
<path d="M326.7 111.53L337.4 105.36L348.1 103.84L358.8 103.05L369.4 102.54L380.1 102.22L390.8 102.00L401.5 101.86L412.2 101.77L422.9 101.71L433.5 101.67L444.2 101.65L540.4 101.60" stroke="#5a4696" stroke-width="2.30"/>
<path d="M326.7 111.53L337.4 112.12L348.1 112.49L358.8 112.72L369.4 112.87L380.1 112.96L390.8 113.01L401.5 113.04L540.4 113.10" stroke="#00c8be" stroke-width="1.50"/>
<path d="M326.7 111.53L337.4 95.55L348.1 92.12L358.8 90.40L369.4 89.28L380.1 88.52L390.8 88.01L401.5 87.66L412.2 87.42L422.9 87.26L433.5 87.16L444.2 87.08L454.9 87.03L465.6 87.00L476.3 86.97L540.4 86.93" stroke="#af4128" stroke-width="1.75"/>
<path d="M326.7 111.53L337.4 106.62L348.1 105.33L358.8 104.65L369.4 104.22L380.1 103.95L390.8 103.78L401.5 103.67L412.2 103.59L422.9 103.55L433.5 103.52L540.4 103.46" stroke="#c8321e" stroke-width="1.27"/>
<path d="M326.7 111.53L337.4 92.46L348.1 88.33L358.8 86.31L369.4 85.04L380.1 84.21L390.8 83.67L401.5 83.32L412.2 83.09L422.9 82.94L433.5 82.84L444.2 82.77L454.9 82.73L465.6 82.70L540.4 82.65" stroke="#001eaa" stroke-width="1.80"/>
<path d="M326.7 111.53L337.4 105.70L348.1 104.22L358.8 103.48L369.4 103.03L380.1 102.75L390.8 102.58L401.5 102.47L412.2 102.40L422.9 102.36L433.5 102.33L540.4 102.29" stroke="#c8321e" stroke-width="1.27"/>
<path d="M326.7 111.53L337.4 114.90L348.1 117.07L358.8 118.46L369.4 119.33L380.1 119.88L390.8 120.23L401.5 120.44L412.2 120.58L422.9 120.66L433.5 120.71L444.2 120.75L540.4 120.80" stroke="#289614" stroke-width="1.90"/>
<path d="M326.7 111.53L337.4 115.84L348.1 118.76L358.8 120.69L369.4 121.96L380.1 122.79L390.8 123.32L401.5 123.67L412.2 123.89L422.9 124.04L433.5 124.13L444.2 124.19L454.9 124.23L465.6 124.26L540.4 124.30" stroke="#961eaa" stroke-width="1.30"/>
<path d="M326.7 111.53L337.4 116.85L348.1 120.48L358.8 122.92L369.4 124.54L380.1 125.59L390.8 126.28L401.5 126.73L412.2 127.02L422.9 127.21L433.5 127.33L444.2 127.41L454.9 127.46L465.6 127.49L540.4 127.55" stroke="#641e64" stroke-width="1.80"/>
<path d="M326.7 111.53L337.4 93.97L348.1 90.19L358.8 88.30L369.4 87.08L380.1 86.26L390.8 85.70L401.5 85.33L412.2 85.08L422.9 84.91L433.5 84.79L444.2 84.71L454.9 84.66L465.6 84.62L476.3 84.60L540.4 84.55" stroke="#00966e" stroke-width="1.80"/>
<path d="M326.7 111.53L337.4 95.65L348.1 92.20L358.8 90.52L369.4 89.47L380.1 88.79L390.8 88.35L401.5 88.06L412.2 87.88L422.9 87.75L433.5 87.67L444.2 87.62L454.9 87.59L540.4 87.53" stroke="#e1001e" stroke-width="1.65"/>
<path d="M326.7 111.53L337.4 104.67L348.1 103.02L358.8 102.18L369.4 101.65L380.1 101.31L390.8 101.08L401.5 100.93L412.2 100.83L422.9 100.77L433.5 100.73L444.2 100.70L540.4 100.65" stroke="#e6006e" stroke-width="1.80"/>
<path d="M326.7 111.53L337.4 88.46L348.1 83.48L358.8 81.01L369.4 79.41L380.1 78.35L390.8 77.64L401.5 77.16L412.2 76.83L422.9 76.62L433.5 76.47L444.2 76.37L454.9 76.31L465.6 76.27L476.3 76.24L540.4 76.18" stroke="#0000f0" stroke-width="1.45"/>
<path d="M326.7 111.53L337.4 89.91L348.1 85.26L358.8 82.93L369.4 81.42L380.1 80.41L390.8 79.73L401.5 79.27L412.2 78.95L422.9 78.74L433.5 78.60L444.2 78.50L454.9 78.44L465.6 78.39L476.3 78.36L540.4 78.31" stroke="#f0003c" stroke-width="2.30"/>
<path d="M326.7 111.53L337.4 93.70L348.1 83.04L358.8 76.66L369.4 72.85L380.1 70.57L390.8 69.20L401.5 68.39L412.2 67.90L422.9 67.61L433.5 67.43L444.2 67.33L454.9 67.27L465.6 67.23L540.4 67.18" stroke="#820078" stroke-width="1.15"/>
<path d="M326.7 111.53L337.4 110.36L348.1 109.99L358.8 109.78L369.4 109.66L380.1 109.58L390.8 109.53L401.5 109.50L540.4 109.45" stroke="#f00014" stroke-width="2.00"/>
<path d="M326.7 111.53L337.4 114.14L348.1 115.81L358.8 116.87L369.4 117.53L380.1 117.95L390.8 118.22L401.5 118.38L412.2 118.48L422.9 118.54L433.5 118.58L444.2 118.61L540.4 118.65" stroke="#6e8c14" stroke-width="1.80"/>
<path d="M326.7 111.53L337.4 120.10L348.1 126.28L358.8 130.61L369.4 133.57L380.1 135.57L390.8 136.91L401.5 137.79L412.2 138.38L422.9 138.76L433.5 139.02L444.2 139.18L454.9 139.29L465.6 139.36L476.3 139.41L487.0 139.44L540.4 139.49" stroke="#82288c" stroke-width="1.50"/>
<path d="M326.7 111.53L337.4 90.40L348.1 78.76L358.8 72.34L369.4 68.80L380.1 66.85L390.8 65.77L401.5 65.18L412.2 64.85L422.9 64.67L433.5 64.57L444.2 64.52L540.4 64.45" stroke="#e646d2" stroke-width="2.30"/>
<path d="M326.7 111.53L337.4 83.44L348.1 77.40L358.8 74.37L369.4 72.41L380.1 71.08L390.8 70.18L401.5 69.57L412.2 69.15L422.9 68.87L433.5 68.68L444.2 68.55L454.9 68.46L465.6 68.40L476.3 68.36L487.0 68.33L540.4 68.28" stroke="#3c463c" stroke-width="1.15"/>
<path d="M326.7 111.53L337.4 103.24L348.1 101.29L358.8 100.31L369.4 99.69L380.1 99.29L390.8 99.03L401.5 98.86L412.2 98.75L422.9 98.68L433.5 98.64L444.2 98.61L540.4 98.55" stroke="#f00064" stroke-width="1.80"/>
<path d="M326.7 111.53L337.4 109.87L348.1 109.35L358.8 109.07L369.4 108.89L380.1 108.78L390.8 108.71L401.5 108.67L412.2 108.64L540.4 108.60" stroke="#50143c" stroke-width="1.90"/>
<path d="M326.7 111.53L337.4 92.79L348.1 81.70L358.8 75.12L369.4 71.23L380.1 68.92L390.8 67.56L401.5 66.75L412.2 66.27L422.9 65.99L433.5 65.82L444.2 65.72L454.9 65.66L465.6 65.63L540.4 65.58" stroke="#827882" stroke-width="2.15"/>
<path d="M326.7 111.53L337.4 119.74L348.1 125.31L358.8 128.98L369.4 131.34L380.1 132.84L390.8 133.79L401.5 134.38L412.2 134.75L422.9 134.98L433.5 135.13L444.2 135.22L454.9 135.27L465.6 135.31L540.4 135.36" stroke="#0000f0" stroke-width="1.53"/>
<path d="M326.7 111.53L337.4 116.07L348.1 119.03L358.8 120.92L369.4 122.12L380.1 122.88L390.8 123.35L401.5 123.64L412.2 123.82L422.9 123.94L433.5 124.01L444.2 124.05L454.9 124.08L540.4 124.12" stroke="#e6dc00" stroke-width="1.25"/>
<path d="M326.7 111.53L337.4 98.00L348.1 95.03L358.8 93.58L369.4 92.67L380.1 92.08L390.8 91.70L401.5 91.45L412.2 91.29L422.9 91.18L433.5 91.12L444.2 91.07L454.9 91.04L540.4 90.99" stroke="#0000dc" stroke-width="1.53"/>
<path d="M326.7 111.53L337.4 121.14L348.1 127.95L358.8 132.61L369.4 135.71L380.1 137.75L390.8 139.08L401.5 139.93L412.2 140.48L422.9 140.83L433.5 141.06L444.2 141.20L454.9 141.29L465.6 141.35L476.3 141.39L540.4 141.45" stroke="#50145a" stroke-width="1.80"/>
<path d="M326.7 111.53L337.4 113.22L348.1 114.26L358.8 114.91L369.4 115.30L380.1 115.55L390.8 115.69L401.5 115.78L412.2 115.84L422.9 115.87L540.4 115.92" stroke="#006e1e" stroke-width="1.25"/>
<path d="M326.7 111.53L337.4 98.56L348.1 95.71L358.8 94.28L369.4 93.37L380.1 92.77L390.8 92.36L401.5 92.09L412.2 91.91L422.9 91.79L433.5 91.71L444.2 91.66L454.9 91.62L465.6 91.60L540.4 91.55" stroke="#28b48c" stroke-width="1.80"/>
<path d="M326.7 111.53L337.4 103.53L348.1 101.65L358.8 100.69L369.4 100.10L380.1 99.71L390.8 99.46L401.5 99.30L412.2 99.20L422.9 99.13L433.5 99.08L444.2 99.05L540.4 99.00" stroke="#ff0000" stroke-width="1.30"/>
<path d="M326.7 111.53L337.4 101.08L348.1 98.70L358.8 97.50L369.4 96.74L380.1 96.24L390.8 95.91L401.5 95.69L412.2 95.55L422.9 95.45L433.5 95.39L444.2 95.34L454.9 95.32L540.4 95.26" stroke="#007878" stroke-width="1.43"/>
<path d="M326.7 111.53L337.4 112.73L348.1 113.45L358.8 113.88L369.4 114.13L380.1 114.28L390.8 114.37L401.5 114.42L412.2 114.46L540.4 114.50" stroke="#00c8be" stroke-width="1.50"/>
<path d="M326.7 111.53L337.4 120.62L348.1 127.28L358.8 132.02L369.4 135.31L380.1 137.56L390.8 139.09L401.5 140.11L412.2 140.79L422.9 141.25L433.5 141.55L444.2 141.75L454.9 141.89L465.6 141.98L476.3 142.04L487.0 142.07L497.7 142.10L540.4 142.14" stroke="#1414c8" stroke-width="1.80"/>
<path d="M326.7 111.53L337.4 115.52L348.1 118.10L358.8 119.75L369.4 120.78L380.1 121.43L390.8 121.84L401.5 122.09L412.2 122.25L422.9 122.34L433.5 122.40L444.2 122.44L540.4 122.50" stroke="#968228" stroke-width="1.90"/>
<path d="M326.7 111.53L337.4 90.31L348.1 78.54L358.8 72.01L369.4 68.39L380.1 66.39L390.8 65.27L401.5 64.66L412.2 64.31L422.9 64.12L433.5 64.02L444.2 63.96L540.4 63.89" stroke="#c8d214" stroke-width="1.02"/>
<path d="M326.7 111.53L337.4 90.37L348.1 78.43L358.8 71.69L369.4 67.89L380.1 65.74L390.8 64.53L401.5 63.85L412.2 63.46L422.9 63.24L433.5 63.12L444.2 63.05L454.9 63.01L540.4 62.96" stroke="#c8d214" stroke-width="1.02"/>
<path d="M326.7 111.53L337.4 117.09L348.1 120.92L358.8 123.50L369.4 125.22L380.1 126.35L390.8 127.08L401.5 127.56L412.2 127.88L422.9 128.08L433.5 128.21L444.2 128.29L454.9 128.35L465.6 128.38L540.4 128.45" stroke="#c81428" stroke-width="2.20"/>
<path d="M326.7 111.53L337.4 96.82L348.1 93.64L358.8 92.07L369.4 91.07L380.1 90.40L390.8 89.96L401.5 89.66L412.2 89.47L422.9 89.34L433.5 89.25L444.2 89.19L454.9 89.15L465.6 89.13L540.4 89.08" stroke="#e1001e" stroke-width="1.65"/>
<path d="M326.7 111.53L337.4 99.75L348.1 97.11L358.8 95.80L369.4 94.97L380.1 94.43L390.8 94.08L401.5 93.84L412.2 93.69L422.9 93.59L433.5 93.53L444.2 93.48L454.9 93.45L540.4 93.40" stroke="#f00000" stroke-width="2.10"/>
<path d="M326.7 111.53L337.4 108.29L348.1 107.36L358.8 106.88L369.4 106.59L380.1 106.42L390.8 106.31L401.5 106.25L412.2 106.21L540.4 106.15" stroke="#bebe00" stroke-width="1.20"/>
<path d="M326.7 111.53L337.4 94.18L348.1 90.43L358.8 88.58L369.4 87.40L380.1 86.62L390.8 86.10L401.5 85.76L412.2 85.53L422.9 85.38L433.5 85.28L444.2 85.21L454.9 85.16L465.6 85.13L540.4 85.08" stroke="#e6141e" stroke-width="1.45"/>
<path d="M326.7 111.53L337.4 116.94L348.1 120.55L358.8 122.90L369.4 124.42L380.1 125.39L390.8 126.00L401.5 126.39L412.2 126.63L422.9 126.79L433.5 126.89L444.2 126.95L454.9 126.99L540.4 127.05" stroke="#14a014" stroke-width="1.40"/>
<path d="M326.7 111.53L337.4 115.22L348.1 117.60L358.8 119.12L369.4 120.07L380.1 120.67L390.8 121.04L401.5 121.27L412.2 121.42L422.9 121.50L433.5 121.56L444.2 121.59L540.4 121.65" stroke="#0000e6" stroke-width="2.00"/>
<path d="M326.7 111.53L337.4 102.89L348.1 100.86L358.8 99.85L369.4 99.22L380.1 98.82L390.8 98.56L401.5 98.39L412.2 98.28L422.9 98.21L433.5 98.17L444.2 98.14L540.4 98.09" stroke="#dc0032" stroke-width="1.33"/>
<path d="M326.7 111.53L337.4 101.68L348.1 99.40L358.8 98.28L369.4 97.58L380.1 97.14L390.8 96.85L401.5 96.67L412.2 96.55L422.9 96.47L433.5 96.42L444.2 96.39L540.4 96.34" stroke="#007878" stroke-width="1.00"/>
<path d="M326.7 111.53L337.4 100.40L348.1 98.19L358.8 97.19L369.4 96.58L380.1 96.19L390.8 95.94L401.5 95.79L412.2 95.69L422.9 95.62L433.5 95.58L444.2 95.56L540.4 95.51" stroke="#007878" stroke-width="1.00"/>
<path d="M326.7 111.53L337.4 104.23L348.1 102.51L358.8 101.62L369.4 101.05L380.1 100.68L390.8 100.43L401.5 100.27L412.2 100.16L422.9 100.09L433.5 100.04L444.2 100.01L540.4 99.95" stroke="#ff0000" stroke-width="1.00"/>
<path d="M326.7 111.53L337.4 113.18L348.1 114.17L358.8 114.78L369.4 115.14L380.1 115.35L390.8 115.48L401.5 115.56L412.2 115.61L422.9 115.63L540.4 115.67" stroke="#006e1e" stroke-width="1.00"/>
<path d="M326.7 111.53L337.4 116.41L348.1 119.72L358.8 121.91L369.4 123.35L380.1 124.29L390.8 124.90L401.5 125.29L412.2 125.55L422.9 125.71L433.5 125.81L444.2 125.88L454.9 125.92L465.6 125.95L540.4 126.00" stroke="#14a014" stroke-width="1.00"/>
<path d="M326.7 111.53L337.4 105.36L348.1 103.84L358.8 103.05L369.4 102.54L380.1 102.22L390.8 102.00L401.5 101.86L412.2 101.77L422.9 101.71L433.5 101.67L444.2 101.65L540.4 101.60" stroke="#5a4696" stroke-width="1.20"/>
<path d="M326.7 111.53L337.4 114.81L348.1 116.73L358.8 117.85L369.4 118.49L380.1 118.86L390.8 119.07L401.5 119.19L412.2 119.26L422.9 119.30L540.4 119.35" stroke="#bebe00" stroke-width="1.00"/>
<path d="M326.7 111.53L337.4 108.64L348.1 107.79L358.8 107.38L369.4 107.17L380.1 107.05L390.8 106.99L401.5 106.96L540.4 106.92" stroke="#bebe00" stroke-width="1.00"/>
<path d="M326.7 111.53L337.4 117.09L348.1 120.92L358.8 123.50L369.4 125.22L380.1 126.35L390.8 127.08L401.5 127.56L412.2 127.88L422.9 128.08L433.5 128.21L444.2 128.29L454.9 128.35L465.6 128.38L540.4 128.45" stroke="#c81428" stroke-width="1.10"/>
<path d="M326.7 111.53L337.4 112.69L348.1 113.36L358.8 113.74L369.4 113.96L380.1 114.09L390.8 114.16L401.5 114.20L540.4 114.25" stroke="#00c8be" stroke-width="1.00"/>
<path d="M326.7 111.53L337.4 115.92L348.1 119.11L358.8 121.40L369.4 123.02L380.1 124.17L390.8 124.97L401.5 125.53L412.2 125.92L422.9 126.19L433.5 126.38L444.2 126.51L454.9 126.60L465.6 126.66L476.3 126.70L487.0 126.73L540.4 126.79" stroke="#14a014" stroke-width="1.00"/>
<path d="M326.7 111.53L337.4 114.39L348.1 116.23L358.8 117.39L369.4 118.13L380.1 118.59L390.8 118.87L401.5 119.05L412.2 119.17L422.9 119.24L433.5 119.28L444.2 119.31L540.4 119.35" stroke="#bebe00" stroke-width="1.00"/>
<path d="M326.7 111.53L337.4 103.78L348.1 101.26L358.8 99.74L369.4 98.70L380.1 97.99L390.8 97.48L401.5 97.14L412.2 96.89L422.9 96.72L433.5 96.61L444.2 96.52L454.9 96.47L465.6 96.43L476.3 96.40L540.4 96.34" stroke="#007878" stroke-width="1.00"/>
<path d="M326.7 111.53L337.4 111.03L348.1 110.83L358.8 110.71L369.4 110.63L380.1 110.58L390.8 110.55L540.4 110.50" stroke="#148214" stroke-width="1.00"/>
<path d="M326.7 111.53L337.4 100.40L348.1 97.87L358.8 96.63L369.4 95.86L380.1 95.37L390.8 95.06L401.5 94.86L412.2 94.73L422.9 94.65L433.5 94.59L444.2 94.56L540.4 94.50" stroke="#c8aa00" stroke-width="1.20"/>
<path d="M326.7 111.53L337.4 122.59L348.1 130.66L358.8 136.32L369.4 140.18L380.1 142.76L390.8 144.47L401.5 145.59L412.2 146.31L422.9 146.79L433.5 147.09L444.2 147.29L454.9 147.42L465.6 147.50L476.3 147.55L487.0 147.59L540.4 147.64" stroke="#ff2828" stroke-width="1.00"/>
<path d="M326.7 111.53L337.4 99.94L348.1 97.29L358.8 95.95L369.4 95.09L380.1 94.52L390.8 94.14L401.5 93.89L412.2 93.73L422.9 93.62L433.5 93.55L444.2 93.50L454.9 93.46L465.6 93.44L540.4 93.40" stroke="#f00000" stroke-width="1.00"/>
<path d="M326.7 111.53L337.4 104.73L348.1 103.30L358.8 102.63L369.4 102.24L380.1 102.00L390.8 101.85L401.5 101.75L412.2 101.69L422.9 101.66L540.4 101.60" stroke="#5a4696" stroke-width="1.00"/>
<path d="M326.7 111.53L337.4 103.77L348.1 102.23L358.8 101.48L369.4 101.00L380.1 100.67L390.8 100.44L401.5 100.29L412.2 100.18L422.9 100.11L433.5 100.06L444.2 100.02L454.9 100.00L540.4 99.95" stroke="#ff0000" stroke-width="1.00"/>
<path d="M326.7 111.53L337.4 108.09L348.1 106.79L358.8 106.14L369.4 105.79L380.1 105.60L390.8 105.50L401.5 105.45L540.4 105.38" stroke="#bebe00" stroke-width="1.00"/>
<path d="M326.7 111.53L337.4 118.46L348.1 123.26L358.8 126.51L369.4 128.67L380.1 130.09L390.8 131.01L401.5 131.61L412.2 132.00L422.9 132.25L433.5 132.41L444.2 132.51L454.9 132.58L465.6 132.62L476.3 132.65L540.4 132.70" stroke="#3246be" stroke-width="1.00"/>
<path d="M326.7 111.53L337.4 107.93L348.1 107.10L358.8 106.72L369.4 106.49L380.1 106.36L390.8 106.27L401.5 106.23L412.2 106.20L540.4 106.15" stroke="#bebe00" stroke-width="1.00"/>
<path d="M326.7 111.53L337.4 90.14L348.1 78.28L358.8 71.70L369.4 68.05L380.1 66.03L390.8 64.91L401.5 64.29L412.2 63.94L422.9 63.75L433.5 63.64L444.2 63.59L454.9 63.55L540.4 63.51" stroke="#c8d214" stroke-width="1.00"/>
<path d="M326.7 111.53L337.4 87.84L348.1 73.52L358.8 64.86L369.4 59.62L380.1 56.45L390.8 54.53L401.5 53.37L412.2 52.67L422.9 52.25L433.5 51.99L444.2 51.84L454.9 51.74L465.6 51.69L476.3 51.65L540.4 51.60" stroke="#bebe00" stroke-width="1.20"/>
<path d="M326.7 111.53L337.4 98.86L348.1 96.66L358.8 95.77L369.4 95.27L380.1 94.97L390.8 94.78L401.5 94.67L412.2 94.60L422.9 94.56L540.4 94.50" stroke="#c8aa00" stroke-width="1.00"/>
<path d="M326.7 111.53L337.4 121.19L348.1 127.51L358.8 131.50L369.4 133.94L380.1 135.42L390.8 136.31L401.5 136.83L412.2 137.15L422.9 137.33L433.5 137.44L444.2 137.51L454.9 137.54L540.4 137.60" stroke="#e6283c" stroke-width="1.00"/>
<path d="M326.7 111.53L337.4 119.81L348.1 125.45L358.8 129.16L369.4 131.55L380.1 133.07L390.8 134.02L401.5 134.62L412.2 135.00L422.9 135.23L433.5 135.37L444.2 135.46L454.9 135.52L465.6 135.56L540.4 135.61" stroke="#0000f0" stroke-width="1.00"/>
<path d="M326.7 111.53L337.4 105.95L348.1 104.54L358.8 103.82L369.4 103.36L380.1 103.07L390.8 102.88L401.5 102.76L412.2 102.68L422.9 102.63L433.5 102.60L540.4 102.54" stroke="#c8321e" stroke-width="1.00"/>
<path d="M326.7 111.53L337.4 87.02L348.1 73.22L358.8 65.45L369.4 61.08L380.1 58.62L390.8 57.23L401.5 56.45L412.2 56.01L422.9 55.77L433.5 55.63L444.2 55.55L454.9 55.51L540.4 55.45" stroke="#3c3cf0" stroke-width="1.00"/>
<path d="M326.7 111.53L337.4 116.05L348.1 119.43L358.8 121.93L369.4 123.76L380.1 125.09L390.8 126.05L401.5 126.73L412.2 127.23L422.9 127.58L433.5 127.83L444.2 128.01L454.9 128.14L465.6 128.23L476.3 128.29L487.0 128.34L497.7 128.37L540.4 128.43" stroke="#c81428" stroke-width="1.00"/>
<path d="M326.7 111.53L337.4 94.35L348.1 90.63L358.8 88.79L369.4 87.63L380.1 86.85L390.8 86.34L401.5 86.00L412.2 85.77L422.9 85.62L433.5 85.52L444.2 85.46L454.9 85.41L465.6 85.38L540.4 85.33" stroke="#e6141e" stroke-width="1.00"/>
<path d="M326.7 111.53L337.4 119.83L348.1 125.71L358.8 129.74L369.4 132.45L380.1 134.24L390.8 135.42L401.5 136.19L412.2 136.69L422.9 137.01L433.5 137.22L444.2 137.35L454.9 137.44L465.6 137.50L476.3 137.53L540.4 137.60" stroke="#e6283c" stroke-width="1.20"/>
<path d="M326.7 111.53L337.4 102.72L348.1 100.66L358.8 99.63L369.4 98.99L380.1 98.58L390.8 98.32L401.5 98.15L412.2 98.04L422.9 97.97L433.5 97.92L444.2 97.89L540.4 97.84" stroke="#dc0032" stroke-width="1.00"/>
<path d="M326.7 111.53L337.4 116.86L348.1 120.41L358.8 122.72L369.4 124.21L380.1 125.17L390.8 125.77L401.5 126.15L412.2 126.39L422.9 126.54L433.5 126.64L444.2 126.70L454.9 126.74L540.4 126.80" stroke="#14a014" stroke-width="1.00"/>
<path d="M326.7 111.53L337.4 122.75L348.1 130.80L358.8 136.36L369.4 140.08L380.1 142.53L390.8 144.12L401.5 145.14L412.2 145.80L422.9 146.22L433.5 146.49L444.2 146.65L454.9 146.76L465.6 146.83L476.3 146.87L487.0 146.90L540.4 146.95" stroke="#ff2828" stroke-width="1.00"/>
<path d="M326.7 111.53L337.4 88.23L348.1 76.46L358.8 70.52L369.4 67.51L380.1 66.00L390.8 65.23L401.5 64.84L412.2 64.65L422.9 64.55L433.5 64.50L540.4 64.45" stroke="#e646d2" stroke-width="1.00"/>
<path d="M326.7 111.53L337.4 111.85L348.1 112.04L358.8 112.16L369.4 112.24L380.1 112.28L390.8 112.31L540.4 112.35" stroke="#7850dc" stroke-width="1.10"/>
<path d="M326.7 111.53L337.4 90.40L348.1 78.76L358.8 72.34L369.4 68.80L380.1 66.85L390.8 65.77L401.5 65.18L412.2 64.85L422.9 64.67L433.5 64.57L444.2 64.52L540.4 64.45" stroke="#e646d2" stroke-width="1.20"/>
<path d="M326.7 111.53L337.4 114.59L348.1 116.58L358.8 117.85L369.4 118.66L380.1 119.18L390.8 119.50L401.5 119.71L412.2 119.83L422.9 119.91L433.5 119.96L444.2 120.00L540.4 120.05" stroke="#bebe00" stroke-width="1.00"/>
<path d="M326.7 111.53L337.4 118.26L348.1 122.79L358.8 125.75L369.4 127.66L380.1 128.87L390.8 129.64L401.5 130.12L412.2 130.42L422.9 130.61L433.5 130.73L444.2 130.80L454.9 130.85L465.6 130.88L540.4 130.92" stroke="#00d2c8" stroke-width="1.00"/>
<path d="M326.7 111.53L337.4 116.29L348.1 119.47L358.8 121.55L369.4 122.89L380.1 123.75L390.8 124.30L401.5 124.65L412.2 124.87L422.9 125.01L433.5 125.10L444.2 125.15L454.9 125.19L540.4 125.25" stroke="#961eaa" stroke-width="1.00"/>
<path d="M326.7 111.53L337.4 115.61L348.1 118.32L358.8 120.08L369.4 121.22L380.1 121.95L390.8 122.41L401.5 122.71L412.2 122.90L422.9 123.02L433.5 123.09L444.2 123.14L454.9 123.17L540.4 123.22" stroke="#e6dc00" stroke-width="1.00"/>
<path d="M326.7 111.53L337.4 102.57L348.1 100.62L358.8 99.66L369.4 99.05L380.1 98.64L390.8 98.37L401.5 98.19L412.2 98.07L422.9 97.99L433.5 97.94L444.2 97.91L454.9 97.88L540.4 97.84" stroke="#dc0032" stroke-width="1.00"/>
<path d="M326.7 111.53L337.4 120.17L348.1 126.41L358.8 130.77L369.4 133.76L380.1 135.78L390.8 137.13L401.5 138.02L412.2 138.62L422.9 139.01L433.5 139.26L444.2 139.43L454.9 139.54L465.6 139.61L476.3 139.66L487.0 139.69L540.4 139.74" stroke="#82288c" stroke-width="1.00"/>
<path d="M326.7 111.53L337.4 93.70L348.1 83.04L358.8 76.66L369.4 72.85L380.1 70.57L390.8 69.20L401.5 68.39L412.2 67.90L422.9 67.61L433.5 67.43L444.2 67.33L454.9 67.27L465.6 67.23L540.4 67.18" stroke="#820078" stroke-width="1.00"/>
<path d="M326.7 111.53L337.4 92.37L348.1 88.26L358.8 86.19L369.4 84.84L380.1 83.92L390.8 83.29L401.5 82.87L412.2 82.58L422.9 82.38L433.5 82.24L444.2 82.15L454.9 82.09L465.6 82.04L476.3 82.01L540.4 81.96" stroke="#008cdc" stroke-width="1.00"/>
<path d="M326.7 111.53L337.4 93.84L348.1 90.00L358.8 88.19L369.4 87.11L380.1 86.44L390.8 86.02L401.5 85.76L412.2 85.60L422.9 85.49L433.5 85.43L444.2 85.39L454.9 85.37L540.4 85.33" stroke="#e6141e" stroke-width="1.00"/>
<path d="M326.7 111.53L337.4 118.88L348.1 123.83L358.8 127.07L369.4 129.16L380.1 130.48L390.8 131.31L401.5 131.83L412.2 132.16L422.9 132.36L433.5 132.49L444.2 132.57L454.9 132.62L465.6 132.65L540.4 132.70" stroke="#3246be" stroke-width="1.00"/>
<path d="M326.7 111.53L337.4 117.73L348.1 121.99L358.8 124.84L369.4 126.72L380.1 127.95L390.8 128.74L401.5 129.25L412.2 129.58L422.9 129.80L433.5 129.93L444.2 130.02L454.9 130.08L465.6 130.11L540.4 130.17" stroke="#00d2c8" stroke-width="1.00"/>
<path d="M326.7 111.53L337.4 119.04L348.1 124.68L358.8 128.81L369.4 131.78L380.1 133.89L390.8 135.38L401.5 136.41L412.2 137.13L422.9 137.63L433.5 137.98L444.2 138.22L454.9 138.38L465.6 138.50L476.3 138.58L487.0 138.63L497.7 138.67L540.4 138.73" stroke="#a09614" stroke-width="1.00"/>
<path d="M326.7 111.53L337.4 113.97L348.1 115.46L358.8 116.36L369.4 116.90L380.1 117.22L390.8 117.42L401.5 117.53L412.2 117.60L422.9 117.64L540.4 117.70" stroke="#c800aa" stroke-width="1.20"/>
<path d="M326.7 111.53L337.4 111.91L348.1 112.11L358.8 112.22L369.4 112.28L540.4 112.35" stroke="#7850dc" stroke-width="1.00"/>
<path d="M326.7 111.53L337.4 106.93L348.1 105.70L358.8 105.05L369.4 104.64L380.1 104.38L390.8 104.21L401.5 104.11L412.2 104.04L422.9 103.99L433.5 103.96L540.4 103.91" stroke="#1ed2aa" stroke-width="1.00"/>
<path d="M326.7 111.53L337.4 106.73L348.1 105.85L358.8 105.44L369.4 105.19L380.1 105.01L390.8 104.89L401.5 104.81L412.2 104.76L422.9 104.72L433.5 104.69L540.4 104.64" stroke="#1ed2aa" stroke-width="1.00"/>
<path d="M326.7 111.53L337.4 88.31L348.1 74.83L358.8 67.00L369.4 62.45L380.1 59.81L390.8 58.28L401.5 57.38L412.2 56.87L422.9 56.57L433.5 56.39L444.2 56.29L454.9 56.23L465.6 56.20L540.4 56.15" stroke="#3c3cf0" stroke-width="1.00"/>
<path d="M326.7 111.53L337.4 93.18L348.1 89.21L358.8 87.25L369.4 86.01L380.1 85.19L390.8 84.66L401.5 84.30L412.2 84.06L422.9 83.91L433.5 83.80L444.2 83.73L454.9 83.69L465.6 83.66L540.4 83.60" stroke="#bebe00" stroke-width="1.20"/>
<path d="M326.7 111.53L337.4 105.88L348.1 104.44L358.8 103.71L369.4 103.26L380.1 102.99L390.8 102.82L401.5 102.71L412.2 102.65L422.9 102.61L433.5 102.58L540.4 102.54" stroke="#c8321e" stroke-width="1.00"/>
<path d="M326.7 111.53L337.4 102.20L348.1 100.04L358.8 98.96L369.4 98.30L380.1 97.87L390.8 97.60L401.5 97.43L412.2 97.31L422.9 97.24L433.5 97.20L444.2 97.17L540.4 97.11" stroke="#dc0032" stroke-width="1.00"/>
<path d="M326.7 111.53L337.4 112.15L348.1 112.57L358.8 112.84L369.4 113.01L380.1 113.13L390.8 113.21L401.5 113.26L412.2 113.29L422.9 113.31L540.4 113.35" stroke="#00c8be" stroke-width="1.00"/>
<path d="M326.7 111.53L337.4 93.14L348.1 82.37L358.8 76.07L369.4 72.38L380.1 70.22L390.8 68.96L401.5 68.22L412.2 67.79L422.9 67.53L433.5 67.38L444.2 67.30L454.9 67.25L465.6 67.22L540.4 67.18" stroke="#820078" stroke-width="1.00"/>
<path d="M326.7 111.53L337.4 93.33L348.1 89.98L358.8 88.53L369.4 87.66L380.1 87.12L390.8 86.77L401.5 86.55L412.2 86.41L422.9 86.33L433.5 86.27L444.2 86.24L540.4 86.18" stroke="#e6141e" stroke-width="1.00"/>
<path d="M326.7 111.53L337.4 91.79L348.1 87.54L358.8 85.42L369.4 84.05L380.1 83.13L390.8 82.52L401.5 82.10L412.2 81.83L422.9 81.64L433.5 81.51L444.2 81.43L454.9 81.37L465.6 81.33L476.3 81.30L540.4 81.25" stroke="#008cdc" stroke-width="1.00"/>
<path d="M326.7 111.53L337.4 96.66L348.1 93.44L358.8 91.85L369.4 90.84L380.1 90.17L390.8 89.72L401.5 89.42L412.2 89.22L422.9 89.09L433.5 89.00L444.2 88.94L454.9 88.90L465.6 88.88L540.4 88.83" stroke="#e1001e" stroke-width="1.05"/>
<path d="M326.7 111.53L337.4 120.80L348.1 127.16L358.8 131.38L369.4 134.11L380.1 135.84L390.8 136.93L401.5 137.62L412.2 138.05L422.9 138.31L433.5 138.48L444.2 138.58L454.9 138.65L465.6 138.69L540.4 138.75" stroke="#a09614" stroke-width="1.10"/>
<path d="M326.7 111.53L337.4 119.64L348.1 125.31L358.8 129.18L369.4 131.75L380.1 133.44L390.8 134.54L401.5 135.25L412.2 135.71L422.9 136.01L433.5 136.20L444.2 136.32L454.9 136.40L465.6 136.45L476.3 136.48L540.4 136.53" stroke="#0000f0" stroke-width="1.00"/>
<path d="M326.7 111.53L337.4 110.96L348.1 110.76L358.8 110.66L369.4 110.60L380.1 110.56L540.4 110.50" stroke="#148214" stroke-width="1.20"/>
<path d="M326.7 111.53L337.4 94.71L348.1 91.05L358.8 89.28L369.4 88.18L380.1 87.47L390.8 87.01L401.5 86.72L412.2 86.53L422.9 86.40L433.5 86.32L444.2 86.27L454.9 86.24L540.4 86.18" stroke="#e6141e" stroke-width="1.00"/>
<path d="M326.7 111.53L337.4 98.53L348.1 95.62L358.8 94.28L369.4 93.51L380.1 93.06L390.8 92.79L401.5 92.63L412.2 92.54L422.9 92.48L433.5 92.45L540.4 92.40" stroke="#e66e00" stroke-width="1.00"/>
<path d="M326.7 111.53L337.4 113.74L348.1 114.98L358.8 115.68L369.4 116.07L380.1 116.28L390.8 116.40L401.5 116.47L412.2 116.51L540.4 116.55" stroke="#5a00b4" stroke-width="1.00"/>
<path d="M326.7 111.53L337.4 119.21L348.1 124.72L358.8 128.57L369.4 131.21L380.1 132.99L390.8 134.19L401.5 134.98L412.2 135.51L422.9 135.86L433.5 136.09L444.2 136.24L454.9 136.34L465.6 136.41L476.3 136.45L487.0 136.48L540.4 136.53" stroke="#0000f0" stroke-width="1.00"/>
<path d="M326.7 111.53L337.4 116.32L348.1 119.20L358.8 120.90L369.4 121.89L380.1 122.46L390.8 122.78L401.5 122.97L412.2 123.08L422.9 123.14L433.5 123.18L540.4 123.22" stroke="#e6dc00" stroke-width="1.00"/>
<path d="M326.7 111.53L337.4 94.54L348.1 84.16L358.8 77.83L369.4 73.96L380.1 71.59L390.8 70.15L401.5 69.27L412.2 68.73L422.9 68.41L433.5 68.21L444.2 68.08L454.9 68.01L465.6 67.96L476.3 67.94L540.4 67.89" stroke="#820078" stroke-width="1.00"/>
<path d="M326.7 111.53L337.4 106.33L348.1 105.35L358.8 104.88L369.4 104.58L380.1 104.37L390.8 104.23L401.5 104.13L412.2 104.06L422.9 104.02L433.5 103.98L444.2 103.96L540.4 103.91" stroke="#1ed2aa" stroke-width="1.00"/>
<path d="M326.7 111.53L337.4 105.80L348.1 103.74L358.8 102.43L369.4 101.51L380.1 100.86L390.8 100.40L401.5 100.07L412.2 99.83L422.9 99.66L433.5 99.55L444.2 99.46L454.9 99.40L465.6 99.36L476.3 99.33L487.0 99.30L540.4 99.26" stroke="#ff0000" stroke-width="1.00"/>
<path d="M326.7 111.53L337.4 95.87L348.1 93.25L358.8 92.12L369.4 91.39L380.1 90.90L390.8 90.56L401.5 90.33L412.2 90.17L422.9 90.06L433.5 89.98L444.2 89.93L454.9 89.89L465.6 89.87L540.4 89.82" stroke="#0000dc" stroke-width="1.00"/>
<path d="M326.7 111.53L337.4 121.28L348.1 127.94L358.8 132.31L369.4 135.11L380.1 136.87L390.8 137.97L401.5 138.66L412.2 139.08L422.9 139.34L433.5 139.50L444.2 139.59L454.9 139.65L465.6 139.69L540.4 139.75" stroke="#82288c" stroke-width="1.00"/>
<path d="M326.7 111.53L337.4 119.09L348.1 124.24L358.8 127.64L369.4 129.85L380.1 131.27L390.8 132.17L401.5 132.74L412.2 133.10L422.9 133.32L433.5 133.46L444.2 133.55L454.9 133.61L465.6 133.64L540.4 133.70" stroke="#00aa96" stroke-width="1.00"/>
<path d="M326.7 111.53L337.4 116.44L348.1 119.46L358.8 121.27L369.4 122.35L380.1 122.98L390.8 123.35L401.5 123.57L412.2 123.70L422.9 123.77L433.5 123.81L540.4 123.87" stroke="#e6dc00" stroke-width="1.00"/>
<path d="M326.7 111.53L337.4 112.63L348.1 113.29L358.8 113.68L369.4 113.92L380.1 114.05L390.8 114.13L401.5 114.18L412.2 114.21L540.4 114.25" stroke="#00c8be" stroke-width="1.00"/>
<path d="M326.7 111.53L337.4 91.03L348.1 87.93L358.8 86.65L369.4 85.80L380.1 85.19L390.8 84.75L401.5 84.43L412.2 84.20L422.9 84.04L433.5 83.92L444.2 83.83L454.9 83.77L465.6 83.72L476.3 83.69L487.0 83.66L540.4 83.61" stroke="#bebe00" stroke-width="1.00"/>
<path d="M326.7 111.53L337.4 122.58L348.1 129.75L358.8 134.20L369.4 136.87L380.1 138.45L390.8 139.37L401.5 139.91L412.2 140.22L422.9 140.40L433.5 140.51L444.2 140.57L454.9 140.60L540.4 140.65" stroke="#82288c" stroke-width="1.00"/>
<path d="M326.7 111.53L337.4 94.43L348.1 88.83L358.8 85.48L369.4 83.23L380.1 81.68L390.8 80.62L401.5 79.90L412.2 79.40L422.9 79.05L433.5 78.82L444.2 78.65L454.9 78.54L465.6 78.47L476.3 78.41L487.0 78.38L497.7 78.35L540.4 78.31" stroke="#f0003c" stroke-width="1.00"/>
<path d="M326.7 111.53L337.4 107.79L348.1 106.74L358.8 106.20L369.4 105.88L380.1 105.69L390.8 105.57L401.5 105.50L412.2 105.45L422.9 105.42L540.4 105.38" stroke="#bebe00" stroke-width="1.00"/>
<path d="M326.7 111.53L337.4 97.83L348.1 94.82L358.8 93.35L369.4 92.44L380.1 91.84L390.8 91.46L401.5 91.21L412.2 91.04L422.9 90.94L433.5 90.87L444.2 90.82L454.9 90.79L540.4 90.74" stroke="#0000dc" stroke-width="1.00"/>
<path d="M326.7 111.53L337.4 90.27L348.1 86.23L358.8 84.41L369.4 83.29L380.1 82.57L390.8 82.11L401.5 81.81L412.2 81.61L422.9 81.48L433.5 81.40L444.2 81.35L454.9 81.31L540.4 81.25" stroke="#008cdc" stroke-width="1.00"/>
<path d="M326.7 111.53L337.4 120.68L348.1 127.40L358.8 132.18L369.4 135.50L380.1 137.77L390.8 139.31L401.5 140.34L412.2 141.03L422.9 141.49L433.5 141.80L444.2 142.00L454.9 142.14L465.6 142.22L476.3 142.28L487.0 142.32L497.7 142.35L540.4 142.39" stroke="#1414c8" stroke-width="1.20"/>
<path d="M326.7 111.53L337.4 97.29L348.1 94.21L358.8 92.68L369.4 91.71L380.1 91.07L390.8 90.65L401.5 90.37L412.2 90.18L422.9 90.06L433.5 89.98L444.2 89.92L454.9 89.88L465.6 89.86L540.4 89.82" stroke="#0000dc" stroke-width="1.00"/>
<path d="M326.7 111.53L337.4 113.67L348.1 115.08L358.8 116.00L369.4 116.60L380.1 116.99L390.8 117.24L401.5 117.41L412.2 117.51L422.9 117.58L433.5 117.62L444.2 117.65L540.4 117.70" stroke="#c800aa" stroke-width="1.00"/>
<path d="M326.7 111.53L337.4 101.33L348.1 99.49L358.8 98.67L369.4 98.15L380.1 97.81L390.8 97.58L401.5 97.42L412.2 97.32L422.9 97.25L433.5 97.21L444.2 97.17L540.4 97.11" stroke="#dc0032" stroke-width="1.00"/>
<path d="M326.7 111.53L337.4 103.70L348.1 101.85L358.8 100.91L369.4 100.33L380.1 99.95L390.8 99.71L401.5 99.55L412.2 99.44L422.9 99.37L433.5 99.33L444.2 99.30L540.4 99.25" stroke="#ff0000" stroke-width="1.00"/>
<path d="M326.7 111.53L337.4 108.81L348.1 108.01L358.8 107.58L369.4 107.33L380.1 107.17L390.8 107.07L401.5 107.01L412.2 106.98L540.4 106.92" stroke="#bebe00" stroke-width="1.00"/>
<path d="M326.7 111.53L337.4 112.22L348.1 112.65L358.8 112.91L369.4 113.08L380.1 113.18L390.8 113.25L401.5 113.29L540.4 113.35" stroke="#00c8be" stroke-width="1.00"/>
<path d="M326.7 111.53L337.4 118.13L348.1 122.91L358.8 126.29L369.4 128.65L380.1 130.27L390.8 131.38L401.5 132.13L412.2 132.64L422.9 132.99L433.5 133.22L444.2 133.38L454.9 133.48L465.6 133.55L476.3 133.60L487.0 133.63L540.4 133.69" stroke="#00aa96" stroke-width="1.00"/>
<path d="M326.7 111.53L337.4 117.14L348.1 120.53L358.8 122.53L369.4 123.69L380.1 124.36L390.8 124.74L401.5 124.96L412.2 125.08L422.9 125.16L433.5 125.20L540.4 125.25" stroke="#961eaa" stroke-width="1.00"/>
<path d="M326.7 111.53L337.4 96.50L348.1 93.99L358.8 92.91L369.4 92.22L380.1 91.75L390.8 91.43L401.5 91.21L412.2 91.06L422.9 90.96L433.5 90.89L444.2 90.84L454.9 90.81L465.6 90.79L540.4 90.74" stroke="#0000dc" stroke-width="1.00"/>
<path d="M326.7 111.53L337.4 100.16L348.1 96.31L358.8 93.98L369.4 92.39L380.1 91.29L390.8 90.53L401.5 90.01L412.2 89.64L422.9 89.39L433.5 89.22L444.2 89.10L454.9 89.01L465.6 88.95L476.3 88.91L487.0 88.89L540.4 88.83" stroke="#e1001e" stroke-width="1.00"/>
<path d="M326.7 111.53L337.4 92.79L348.1 81.70L358.8 75.12L369.4 71.23L380.1 68.92L390.8 67.56L401.5 66.75L412.2 66.27L422.9 65.99L433.5 65.82L444.2 65.72L454.9 65.66L465.6 65.63L540.4 65.58" stroke="#827882" stroke-width="1.05"/>
<path d="M326.7 111.53L337.4 112.94L348.1 113.78L358.8 114.29L369.4 114.59L380.1 114.77L390.8 114.87L401.5 114.93L412.2 114.97L540.4 115.02" stroke="#006e1e" stroke-width="1.00"/>
<path d="M326.7 111.53L337.4 99.75L348.1 97.11L358.8 95.80L369.4 94.97L380.1 94.43L390.8 94.08L401.5 93.84L412.2 93.69L422.9 93.59L433.5 93.53L444.2 93.48L454.9 93.45L540.4 93.40" stroke="#f00000" stroke-width="1.00"/>
<path d="M326.7 111.53L337.4 112.77L348.1 113.58L358.8 114.09L369.4 114.43L380.1 114.64L390.8 114.78L401.5 114.87L412.2 114.92L422.9 114.96L433.5 114.98L540.4 115.02" stroke="#006e1e" stroke-width="1.00"/>
<path d="M326.7 111.53L337.4 118.23L348.1 122.75L358.8 125.71L369.4 127.63L380.1 128.85L390.8 129.62L401.5 130.10L412.2 130.41L422.9 130.60L433.5 130.72L444.2 130.80L454.9 130.85L465.6 130.88L540.4 130.92" stroke="#00d2c8" stroke-width="1.00"/>
<path d="M326.7 111.53L337.4 99.11L348.1 96.36L358.8 94.99L369.4 94.11L380.1 93.54L390.8 93.15L401.5 92.90L412.2 92.73L422.9 92.62L433.5 92.55L444.2 92.50L454.9 92.46L465.6 92.44L540.4 92.40" stroke="#e66e00" stroke-width="1.00"/>
<path d="M326.7 111.53L337.4 94.46L348.1 91.67L358.8 90.46L369.4 89.66L380.1 89.11L390.8 88.72L401.5 88.44L412.2 88.24L422.9 88.11L433.5 88.01L444.2 87.94L454.9 87.89L465.6 87.86L476.3 87.83L540.4 87.78" stroke="#e1001e" stroke-width="1.00"/>
<path d="M326.7 111.53L337.4 115.54L348.1 118.37L358.8 120.33L369.4 121.69L380.1 122.61L390.8 123.24L401.5 123.66L412.2 123.95L422.9 124.15L433.5 124.28L444.2 124.37L454.9 124.43L465.6 124.47L476.3 124.49L540.4 124.54" stroke="#961eaa" stroke-width="1.00"/>
<path d="M326.7 111.53L337.4 90.60L348.1 86.08L358.8 83.84L369.4 82.40L380.1 81.44L390.8 80.80L401.5 80.37L412.2 80.08L422.9 79.89L433.5 79.76L444.2 79.67L454.9 79.62L465.6 79.58L476.3 79.55L540.4 79.50" stroke="#5a5046" stroke-width="1.20"/>
<path d="M326.7 111.53L337.4 108.29L348.1 107.36L358.8 106.88L369.4 106.59L380.1 106.42L390.8 106.31L401.5 106.25L412.2 106.21L540.4 106.15" stroke="#bebe00" stroke-width="1.00"/>
<path d="M326.7 111.53L337.4 94.12L348.1 83.65L358.8 77.36L369.4 73.58L380.1 71.31L390.8 69.95L401.5 69.13L412.2 68.63L422.9 68.34L433.5 68.16L444.2 68.05L454.9 67.99L465.6 67.95L540.4 67.89" stroke="#820078" stroke-width="1.00"/>
<path d="M326.7 111.53L337.4 94.20L348.1 83.53L358.8 76.96L369.4 72.92L380.1 70.44L390.8 68.91L401.5 67.96L412.2 67.39L422.9 67.03L433.5 66.81L444.2 66.67L454.9 66.59L465.6 66.54L476.3 66.51L540.4 66.46" stroke="#820078" stroke-width="1.00"/>
<path d="M326.7 111.53L337.4 117.86L348.1 122.16L358.8 125.01L369.4 126.87L380.1 128.07L390.8 128.84L401.5 129.33L412.2 129.64L422.9 129.83L433.5 129.96L444.2 130.04L454.9 130.09L465.6 130.12L540.4 130.17" stroke="#00d2c8" stroke-width="1.00"/>
<path d="M326.7 111.53L337.4 119.48L348.1 125.00L358.8 128.72L369.4 131.17L380.1 132.76L390.8 133.79L401.5 134.45L412.2 134.87L422.9 135.14L433.5 135.31L444.2 135.42L454.9 135.49L465.6 135.54L476.3 135.56L540.4 135.61" stroke="#0000f0" stroke-width="1.00"/>
<path d="M326.7 111.53L337.4 106.45L348.1 105.12L358.8 104.43L369.4 103.99L380.1 103.71L390.8 103.53L401.5 103.42L412.2 103.35L422.9 103.30L433.5 103.27L540.4 103.21" stroke="#c8321e" stroke-width="1.00"/>
<path d="M326.7 111.53L337.4 106.51L348.1 105.15L358.8 104.44L369.4 104.00L380.1 103.71L390.8 103.53L401.5 103.42L412.2 103.34L422.9 103.30L433.5 103.27L540.4 103.21" stroke="#c8321e" stroke-width="1.00"/>
<path d="M326.7 111.53L337.4 92.06L348.1 87.79L358.8 85.69L369.4 84.38L380.1 83.54L390.8 82.98L401.5 82.62L412.2 82.39L422.9 82.24L433.5 82.14L444.2 82.07L454.9 82.03L465.6 82.00L540.4 81.95" stroke="#008cdc" stroke-width="1.00"/>
<path d="M326.7 111.53L337.4 114.51L348.1 116.47L358.8 117.75L369.4 118.58L380.1 119.11L390.8 119.45L401.5 119.67L412.2 119.80L422.9 119.89L433.5 119.95L444.2 119.99L540.4 120.05" stroke="#bebe00" stroke-width="1.00"/>
<path d="M326.7 111.53L337.4 113.12L348.1 114.11L358.8 114.72L369.4 115.09L380.1 115.32L390.8 115.46L401.5 115.54L412.2 115.59L422.9 115.63L540.4 115.67" stroke="#006e1e" stroke-width="1.00"/>
<path d="M326.7 111.53L337.4 101.25L348.1 98.91L358.8 97.73L369.4 96.97L380.1 96.48L390.8 96.15L401.5 95.93L412.2 95.79L422.9 95.70L433.5 95.63L444.2 95.59L454.9 95.57L540.4 95.51" stroke="#007878" stroke-width="1.00"/>
<path d="M326.7 111.53L337.4 115.98L348.1 118.88L358.8 120.74L369.4 121.91L380.1 122.65L390.8 123.11L401.5 123.40L412.2 123.58L422.9 123.69L433.5 123.76L444.2 123.80L454.9 123.83L540.4 123.87" stroke="#e6dc00" stroke-width="1.00"/>
<path d="M326.7 111.53L337.4 89.31L348.1 84.74L358.8 82.68L369.4 81.46L380.1 80.71L390.8 80.25L401.5 79.96L412.2 79.79L422.9 79.68L433.5 79.61L444.2 79.57L454.9 79.54L540.4 79.50" stroke="#5a5046" stroke-width="1.00"/>
<path d="M326.7 111.53L337.4 121.04L348.1 127.73L358.8 132.25L369.4 135.25L380.1 137.20L390.8 138.45L401.5 139.25L412.2 139.77L422.9 140.09L433.5 140.30L444.2 140.43L454.9 140.51L465.6 140.56L476.3 140.59L540.4 140.65" stroke="#82288c" stroke-width="1.00"/>
<path d="M326.7 111.53L337.4 89.91L348.1 85.26L358.8 82.93L369.4 81.42L380.1 80.41L390.8 79.73L401.5 79.27L412.2 78.95L422.9 78.74L433.5 78.60L444.2 78.50L454.9 78.44L465.6 78.39L476.3 78.36L540.4 78.31" stroke="#f0003c" stroke-width="1.20"/>
<path d="M326.7 111.53L337.4 116.50L348.1 119.84L358.8 122.03L369.4 123.46L380.1 124.38L390.8 124.97L401.5 125.34L412.2 125.58L422.9 125.73L433.5 125.83L444.2 125.89L454.9 125.93L465.6 125.96L540.4 126.00" stroke="#14a014" stroke-width="1.00"/>
<path d="M326.7 111.53L337.4 90.27L348.1 78.84L358.8 72.70L369.4 69.40L380.1 67.63L390.8 66.68L401.5 66.17L412.2 65.89L422.9 65.75L433.5 65.67L444.2 65.62L540.4 65.58" stroke="#827882" stroke-width="1.00"/>
<path d="M326.7 111.53L337.4 96.30L348.1 86.21L358.8 79.53L369.4 75.11L380.1 72.19L390.8 70.25L401.5 68.97L412.2 68.12L422.9 67.56L433.5 67.19L444.2 66.94L454.9 66.78L465.6 66.67L476.3 66.60L487.0 66.55L497.7 66.52L540.4 66.47" stroke="#820078" stroke-width="1.00"/>
<path d="M326.7 111.53L337.4 122.10L348.1 129.62L358.8 134.77L369.4 138.20L380.1 140.44L390.8 141.89L401.5 142.82L412.2 143.42L422.9 143.79L433.5 144.03L444.2 144.19L454.9 144.28L465.6 144.34L476.3 144.38L540.4 144.45" stroke="#bebe00" stroke-width="1.10"/>
<path d="M326.7 111.53L337.4 113.38L348.1 114.56L358.8 115.30L369.4 115.77L380.1 116.06L390.8 116.25L401.5 116.36L412.2 116.43L422.9 116.48L433.5 116.50L540.4 116.55" stroke="#5a00b4" stroke-width="1.10"/>
<path d="M326.7 111.53L337.4 115.92L348.1 118.89L358.8 120.87L369.4 122.16L380.1 123.00L390.8 123.55L401.5 123.91L412.2 124.14L422.9 124.28L433.5 124.38L444.2 124.44L454.9 124.48L465.6 124.50L540.4 124.55" stroke="#961eaa" stroke-width="1.00"/>
<path d="M326.7 111.53L337.4 90.32L348.1 78.34L358.8 71.59L369.4 67.78L380.1 65.62L390.8 64.41L401.5 63.72L412.2 63.34L422.9 63.12L433.5 63.00L444.2 62.93L454.9 62.89L540.4 62.84" stroke="#c8d214" stroke-width="1.00"/>
<path d="M326.7 111.53L337.4 107.43L348.1 106.31L358.8 105.70L369.4 105.33L380.1 105.08L390.8 104.92L401.5 104.82L412.2 104.76L422.9 104.71L433.5 104.69L540.4 104.64" stroke="#1ed2aa" stroke-width="1.00"/>
<path d="M326.7 111.53L337.4 95.81L348.1 92.40L358.8 90.74L369.4 89.70L380.1 89.03L390.8 88.59L401.5 88.31L412.2 88.12L422.9 88.00L433.5 87.92L444.2 87.87L454.9 87.84L540.4 87.78" stroke="#e1001e" stroke-width="1.05"/>
<path d="M326.7 111.53L337.4 119.42L348.1 124.80L358.8 128.36L369.4 130.67L380.1 132.15L390.8 133.08L401.5 133.68L412.2 134.05L422.9 134.28L433.5 134.43L444.2 134.52L454.9 134.58L465.6 134.61L540.4 134.67" stroke="#d2be00" stroke-width="0.95"/>
<path d="M326.7 111.53L337.4 83.60L348.1 77.60L358.8 74.59L369.4 72.63L380.1 71.31L390.8 70.42L401.5 69.81L412.2 69.40L422.9 69.12L433.5 68.93L444.2 68.80L454.9 68.71L465.6 68.65L476.3 68.61L487.0 68.58L540.4 68.53" stroke="#3c463c" stroke-width="0.55"/>
<path d="M326.7 111.53L337.4 114.14L348.1 115.81L358.8 116.87L369.4 117.53L380.1 117.95L390.8 118.22L401.5 118.38L412.2 118.48L422.9 118.54L433.5 118.58L444.2 118.61L540.4 118.65" stroke="#6e8c14" stroke-width="0.70"/>
<path d="M326.7 111.53L540.4 111.45" stroke="#823c82" stroke-width="0.70"/>
<path d="M326.7 111.53L337.4 109.87L348.1 109.35L358.8 109.07L369.4 108.89L380.1 108.78L390.8 108.71L401.5 108.67L412.2 108.64L540.4 108.60" stroke="#50143c" stroke-width="0.80"/>
<path d="M326.7 111.53L337.4 95.55L348.1 92.12L358.8 90.40L369.4 89.28L380.1 88.52L390.8 88.01L401.5 87.66L412.2 87.42L422.9 87.26L433.5 87.16L444.2 87.08L454.9 87.03L465.6 87.00L476.3 86.97L540.4 86.93" stroke="#af4128" stroke-width="0.65"/>
<path d="M326.7 111.53L337.4 104.67L348.1 103.02L358.8 102.18L369.4 101.65L380.1 101.31L390.8 101.08L401.5 100.93L412.2 100.83L422.9 100.77L433.5 100.73L444.2 100.70L540.4 100.65" stroke="#e6006e" stroke-width="0.70"/>
<path d="M326.7 111.53L337.4 110.36L348.1 109.99L358.8 109.78L369.4 109.66L380.1 109.58L390.8 109.53L401.5 109.50L540.4 109.45" stroke="#f00014" stroke-width="0.90"/>
<path d="M326.7 111.53L337.4 116.85L348.1 120.48L358.8 122.92L369.4 124.54L380.1 125.59L390.8 126.28L401.5 126.73L412.2 127.02L422.9 127.21L433.5 127.33L444.2 127.41L454.9 127.46L465.6 127.49L540.4 127.55" stroke="#641e64" stroke-width="0.70"/>
<path d="M326.7 111.53L337.4 98.56L348.1 95.71L358.8 94.28L369.4 93.37L380.1 92.77L390.8 92.36L401.5 92.09L412.2 91.91L422.9 91.79L433.5 91.71L444.2 91.66L454.9 91.62L465.6 91.60L540.4 91.55" stroke="#28b48c" stroke-width="0.70"/>
<path d="M326.7 111.53L337.4 121.14L348.1 127.95L358.8 132.61L369.4 135.71L380.1 137.75L390.8 139.08L401.5 139.93L412.2 140.48L422.9 140.83L433.5 141.06L444.2 141.20L454.9 141.29L465.6 141.35L476.3 141.39L540.4 141.45" stroke="#50145a" stroke-width="0.70"/>
<path d="M326.7 111.53L337.4 114.90L348.1 117.07L358.8 118.46L369.4 119.33L380.1 119.88L390.8 120.23L401.5 120.44L412.2 120.58L422.9 120.66L433.5 120.71L444.2 120.75L540.4 120.80" stroke="#289614" stroke-width="0.80"/>
<path d="M326.7 111.53L337.4 92.46L348.1 88.33L358.8 86.31L369.4 85.04L380.1 84.21L390.8 83.67L401.5 83.32L412.2 83.09L422.9 82.94L433.5 82.84L444.2 82.77L454.9 82.73L465.6 82.70L540.4 82.65" stroke="#001eaa" stroke-width="0.70"/>
<path d="M326.7 111.53L337.4 109.36L348.1 108.70L358.8 108.34L369.4 108.12L380.1 107.98L390.8 107.90L401.5 107.84L412.2 107.81L540.4 107.75" stroke="#a07846" stroke-width="0.90"/>
<path d="M326.7 111.53L337.4 103.24L348.1 101.29L358.8 100.31L369.4 99.69L380.1 99.29L390.8 99.03L401.5 98.86L412.2 98.75L422.9 98.68L433.5 98.64L444.2 98.61L540.4 98.55" stroke="#f00064" stroke-width="0.70"/>
<path d="M326.7 111.53L337.4 118.42L348.1 123.10L358.8 126.20L369.4 128.21L380.1 129.51L390.8 130.33L401.5 130.85L412.2 131.19L422.9 131.39L433.5 131.53L444.2 131.61L454.9 131.66L465.6 131.69L540.4 131.75" stroke="#006e32" stroke-width="0.90"/>
<path d="M326.7 111.53L337.4 91.43L348.1 87.11L358.8 84.94L369.4 83.53L380.1 82.56L390.8 81.91L401.5 81.46L412.2 81.16L422.9 80.95L433.5 80.81L444.2 80.71L454.9 80.64L465.6 80.60L476.3 80.57L540.4 80.51" stroke="#781e96" stroke-width="0.80"/>
<path d="M326.7 111.53L337.4 117.57L348.1 121.67L358.8 124.40L369.4 126.19L380.1 127.34L390.8 128.09L401.5 128.56L412.2 128.87L422.9 129.06L433.5 129.18L444.2 129.26L454.9 129.31L465.6 129.34L540.4 129.40" stroke="#00aa3c" stroke-width="0.80"/>
<path d="M326.7 111.53L337.4 93.97L348.1 90.19L358.8 88.30L369.4 87.08L380.1 86.26L390.8 85.70L401.5 85.33L412.2 85.08L422.9 84.91L433.5 84.79L444.2 84.71L454.9 84.66L465.6 84.62L476.3 84.60L540.4 84.55" stroke="#00966e" stroke-width="0.70"/>
<path d="M326.7 111.53L337.4 115.52L348.1 118.10L358.8 119.75L369.4 120.78L380.1 121.43L390.8 121.84L401.5 122.09L412.2 122.25L422.9 122.34L433.5 122.40L444.2 122.44L540.4 122.50" stroke="#968228" stroke-width="0.80"/>
<path d="M326.7 111.53L337.4 115.22L348.1 117.60L358.8 119.12L369.4 120.07L380.1 120.67L390.8 121.04L401.5 121.27L412.2 121.42L422.9 121.50L433.5 121.56L444.2 121.59L540.4 121.65" stroke="#0000e6" stroke-width="0.90"/>
<path d="M326.7 111.53L337.4 87.76L348.1 82.61L358.8 80.09L369.4 78.51L380.1 77.48L390.8 76.82L401.5 76.38L412.2 76.09L422.9 75.90L433.5 75.78L444.2 75.70L454.9 75.65L465.6 75.61L540.4 75.55" stroke="#beb41e" stroke-width="0.90"/>
<path d="M326.7 111.53L337.4 91.00L348.1 85.09L358.8 81.91L369.4 79.92L380.1 78.66L390.8 77.85L401.5 77.34L412.2 77.01L422.9 76.80L433.5 76.66L444.2 76.58L454.9 76.52L465.6 76.49L540.4 76.43" stroke="#0000f0" stroke-width="1.00"/>
<path d="M326.7 111.53L337.4 89.05L348.1 84.19L358.8 81.79L369.4 80.27L380.1 79.26L390.8 78.59L401.5 78.15L412.2 77.86L422.9 77.66L433.5 77.53L444.2 77.44L454.9 77.39L465.6 77.35L476.3 77.32L540.4 77.28" stroke="#0000f0" stroke-width="1.00"/>
<path d="M326.7 111.53L337.4 81.72L348.1 77.04L358.8 75.25L369.4 74.23L380.1 73.60L390.8 73.20L401.5 72.96L412.2 72.81L422.9 72.71L433.5 72.65L444.2 72.61L540.4 72.55" stroke="#1e3cf0" stroke-width="1.00"/>
<path d="M326.7 111.53L337.4 86.76L348.1 81.42L358.8 78.76L369.4 77.06L380.1 75.92L390.8 75.16L401.5 74.64L412.2 74.30L422.9 74.07L433.5 73.92L444.2 73.81L454.9 73.74L465.6 73.70L476.3 73.66L540.4 73.61" stroke="#5082fa" stroke-width="1.00"/>
<path d="M326.7 111.53L337.4 94.37L348.1 88.98L358.8 85.67L369.4 83.33L380.1 81.65L390.8 80.43L401.5 79.55L412.2 78.92L422.9 78.46L433.5 78.13L444.2 77.89L454.9 77.72L465.6 77.60L476.3 77.51L487.0 77.44L497.7 77.40L508.3 77.36L540.4 77.31" stroke="#0000f0" stroke-width="1.00"/>
<path d="M326.7 111.53L337.4 84.97L348.1 79.66L358.8 77.28L369.4 75.88L380.1 75.02L390.8 74.48L401.5 74.15L412.2 73.94L422.9 73.81L433.5 73.73L444.2 73.68L454.9 73.65L540.4 73.60" stroke="#5082fa" stroke-width="1.00"/>
<path d="M326.7 111.53L337.4 84.94L348.1 79.23L358.8 76.36L369.4 74.51L380.1 73.26L390.8 72.42L401.5 71.85L412.2 71.46L422.9 71.20L433.5 71.02L444.2 70.90L454.9 70.82L465.6 70.76L476.3 70.73L487.0 70.70L540.4 70.66" stroke="#3c3cfa" stroke-width="1.10"/>
<path d="M326.7 111.53L337.4 88.62L348.1 83.68L358.8 81.22L369.4 79.64L380.1 78.59L390.8 77.88L401.5 77.40L412.2 77.08L422.9 76.86L433.5 76.72L444.2 76.62L454.9 76.56L465.6 76.51L476.3 76.49L540.4 76.43" stroke="#0000f0" stroke-width="1.00"/>
<path d="M326.7 111.53L337.4 87.42L348.1 82.22L358.8 79.63L369.4 77.97L380.1 76.86L390.8 76.12L401.5 75.62L412.2 75.28L422.9 75.06L433.5 74.91L444.2 74.81L454.9 74.74L465.6 74.69L476.3 74.66L540.4 74.61" stroke="#1414e6" stroke-width="1.00"/>
<path d="M326.7 111.53L337.4 84.48L348.1 79.61L358.8 77.59L369.4 76.43L380.1 75.72L390.8 75.29L401.5 75.02L412.2 74.86L422.9 74.76L433.5 74.70L444.2 74.66L540.4 74.60" stroke="#1414e6" stroke-width="1.00"/>
<path d="M326.7 111.53L337.4 86.15L348.1 80.69L358.8 77.96L369.4 76.19L380.1 75.01L390.8 74.21L401.5 73.67L412.2 73.31L422.9 73.06L433.5 72.89L444.2 72.78L454.9 72.71L465.6 72.66L476.3 72.62L487.0 72.60L540.4 72.56" stroke="#1e3cf0" stroke-width="1.10"/>
<path d="M326.7 111.53L337.4 85.64L348.1 80.08L358.8 77.29L369.4 75.47L380.1 74.23L390.8 73.39L401.5 72.82L412.2 72.43L422.9 72.17L433.5 71.99L444.2 71.86L454.9 71.78L465.6 71.72L476.3 71.68L487.0 71.66L540.4 71.61" stroke="#9696ff" stroke-width="0.80"/>
<path d="M326.7 111.53L337.4 81.72L348.1 64.17L358.8 53.85L369.4 47.77L380.1 44.19L390.8 42.08L401.5 40.84L412.2 40.11L422.9 39.68L433.5 39.43L444.2 39.28L454.9 39.20L465.6 39.14L476.3 39.11L540.4 39.07" stroke="#008000" stroke-width="1.10"/>
<path d="M326.7 111.53L337.4 90.17L348.1 73.89L358.8 62.20L369.4 54.15L380.1 48.77L390.8 45.25L401.5 42.97L412.2 41.52L422.9 40.59L433.5 40.00L444.2 39.62L454.9 39.39L465.6 39.24L476.3 39.14L487.0 39.08L497.7 39.04L540.4 38.99" stroke="#00bfaf" stroke-width="1.10"/>
</g>
<rect x="326.7" y="20.5" width="213.7" height="145.65" fill="none" stroke="#4a4a4a" stroke-width="1"/>
<path d="M326.70 166.15v-2.3M326.70 20.5v2.3M380.12 166.15v-2.3M380.12 20.5v2.3M433.55 166.15v-2.3M433.55 20.5v2.3M486.98 166.15v-2.3M486.98 20.5v2.3M540.40 166.15v-2.3M540.40 20.5v2.3M326.7 20.50h2.3M540.4 20.50h-2.3M326.7 56.91h2.3M540.4 56.91h-2.3M326.7 93.33h2.3M540.4 93.33h-2.3M326.7 129.74h2.3M540.4 129.74h-2.3M326.7 166.15h2.3M540.4 166.15h-2.3" stroke="#4a4a4a" stroke-width="1" fill="none"/>
<text x="326.7" y="183.85" font-size="12.5" text-anchor="middle">0</text>
<text x="380.12" y="183.85" font-size="12.5" text-anchor="middle">5</text>
<text x="433.55" y="183.85" font-size="12.5" text-anchor="middle">10</text>
<text x="486.98" y="183.85" font-size="12.5" text-anchor="middle">15</text>
<text x="540.4" y="183.85" font-size="12.5" text-anchor="middle">20</text>
<text x="322.5" y="25.5" font-size="12.5" text-anchor="end">8</text>
<text x="322.5" y="61.91" font-size="12.5" text-anchor="end">6</text>
<text x="322.5" y="98.33" font-size="12.5" text-anchor="end">4</text>
<text x="322.5" y="134.74" font-size="12.5" text-anchor="end">2</text>
<text x="322.5" y="171.15" font-size="12.5" text-anchor="end">0</text>
<text x="433.95" y="202.55" font-size="15.3" text-anchor="middle">Time</text>
<text x="309.3" y="93.325" font-size="15.3" text-anchor="middle" transform="rotate(-90 309.3 93.325)">y(t)</text>
<text x="326.8" y="14.5" font-size="15.0" text-anchor="start">(B)</text>
<path d="M65.38 375.15v-1.46h1.85v1.46zM70.78 375.15v-15.05h1.85v15.05zM76.08 375.15v-54.35h1.85v54.35zM81.48 375.15v-116.21h1.85v116.21zM86.78 375.15v-143.38h1.85v143.38zM91.98 375.15v-86.62h1.85v86.62zM97.28 375.15v-43.68h1.85v43.68zM102.48 375.15v-18.45h1.85v18.45zM107.88 375.15v-2.43h1.85v2.43zM113.17 375.15v-0.97h1.85v0.97z" fill="#0a4a84"/>
<path d="M70.78 360.09h1.85v0.9h-1.85zM76.08 320.80h1.85v0.9h-1.85zM81.48 258.94h1.85v0.9h-1.85zM86.78 231.77h1.85v0.9h-1.85zM91.98 288.53h1.85v0.9h-1.85zM97.28 331.47h1.85v0.9h-1.85zM102.48 356.70h1.85v0.9h-1.85z" fill="#0c2846"/>
<path d="M82.78 375.15v-0.49h1.85v0.49zM88.08 375.15v-4.38h1.85v4.38zM93.28 375.15v-6.81h1.85v6.81zM98.58 375.15v-13.60h1.85v13.60zM103.78 375.15v-24.27h1.85v24.27zM109.08 375.15v-33.49h1.85v33.49zM114.38 375.15v-39.80h1.85v39.80zM120.08 375.15v-52.41h1.85v52.41zM125.38 375.15v-45.14h1.85v45.14zM130.77 375.15v-57.26h1.85v57.26zM135.88 375.15v-55.32h1.85v55.32zM141.27 375.15v-42.71h1.85v42.71zM146.38 375.15v-33.73h1.85v33.73zM151.57 375.15v-19.42h1.85v19.42zM156.97 375.15v-18.45h1.85v18.45zM162.27 375.15v-13.11h1.85v13.11zM167.47 375.15v-10.69h1.85v10.69zM172.77 375.15v-6.32h1.85v6.32zM177.97 375.15v-5.35h1.85v5.35zM188.47 375.15v-1.46h1.85v1.46zM193.67 375.15v-0.97h1.85v0.97zM198.97 375.15v-0.73h1.85v0.73zM209.47 375.15v-0.73h1.85v0.73zM214.77 375.15v-0.49h1.85v0.49zM220.07 375.15v-0.49h1.85v0.49z" fill="#9e5406"/>
<path d="M88.08 370.77h1.85v0.9h-1.85zM93.28 368.34h1.85v0.9h-1.85zM98.58 361.55h1.85v0.9h-1.85zM103.78 350.88h1.85v0.9h-1.85zM109.08 341.66h1.85v0.9h-1.85zM114.38 335.35h1.85v0.9h-1.85zM120.08 322.74h1.85v0.9h-1.85zM125.38 330.01h1.85v0.9h-1.85zM130.77 317.89h1.85v0.9h-1.85zM135.88 319.83h1.85v0.9h-1.85zM141.27 332.44h1.85v0.9h-1.85zM146.38 341.42h1.85v0.9h-1.85zM151.57 355.73h1.85v0.9h-1.85zM156.97 356.70h1.85v0.9h-1.85zM162.27 362.04h1.85v0.9h-1.85zM167.47 364.46h1.85v0.9h-1.85zM172.77 368.83h1.85v0.9h-1.85zM177.97 369.80h1.85v0.9h-1.85z" fill="#502806"/>
<rect x="46.8" y="229.6" width="213.59999999999997" height="145.54999999999998" fill="none" stroke="#4a4a4a" stroke-width="1"/>
<path d="M46.80 375.15v-2.3M46.80 229.6v2.3M100.20 375.15v-2.3M100.20 229.6v2.3M153.60 375.15v-2.3M153.60 229.6v2.3M207.00 375.15v-2.3M207.00 229.6v2.3M260.40 375.15v-2.3M260.40 229.6v2.3M46.8 229.60h2.3M260.4 229.60h-2.3M46.8 278.12h2.3M260.4 278.12h-2.3M46.8 326.63h2.3M260.4 326.63h-2.3M46.8 375.15h2.3M260.4 375.15h-2.3" stroke="#4a4a4a" stroke-width="1" fill="none"/>
<text x="46.8" y="392.84999999999997" font-size="12.5" text-anchor="middle">0</text>
<text x="100.2" y="392.84999999999997" font-size="12.5" text-anchor="middle">2</text>
<text x="153.6" y="392.84999999999997" font-size="12.5" text-anchor="middle">4</text>
<text x="207.0" y="392.84999999999997" font-size="12.5" text-anchor="middle">6</text>
<text x="260.4" y="392.84999999999997" font-size="12.5" text-anchor="middle">8</text>
<text x="42.599999999999994" y="235.3" font-size="12.5" text-anchor="end">300</text>
<text x="42.599999999999994" y="283.32" font-size="12.5" text-anchor="end">200</text>
<text x="42.599999999999994" y="332.23" font-size="12.5" text-anchor="end">100</text>
<text x="42.599999999999994" y="380.55" font-size="12.5" text-anchor="end">0</text>
<text x="153.8" y="411.55" font-size="15.3" text-anchor="middle">Range</text>
<text x="13.6" y="303.18" font-size="15.3" text-anchor="middle" transform="rotate(-90 13.6 303.18)">Frequency</text>
<text x="46.9" y="223.6" font-size="15.0" text-anchor="start">(C)</text>
<rect x="216.5" y="237.5" width="36" height="31" fill="#fff" stroke="#3c3c3c" stroke-width="1"/>
<rect x="218.40" y="239.00" width="23.4" height="13.7" fill="#0072bd" stroke="#20303c" stroke-width="0.8"/>
<rect x="218.40" y="254.30" width="23.4" height="13.4" fill="#e07a00" stroke="#3a2c14" stroke-width="0.8"/>
<text x="244.1" y="250.75" font-size="10.8" text-anchor="start">x</text>
<text x="244.1" y="266.3" font-size="10.8" text-anchor="start">y</text>
<path d="M343.07 375.15v-1.46h1.85v1.46zM348.57 375.15v-13.11h1.85v13.11zM354.18 375.15v-46.59h1.85v46.59zM360.27 375.15v-112.33h1.85v112.33zM365.77 375.15v-140.96h1.85v140.96zM371.38 375.15v-96.08h1.85v96.08zM377.07 375.15v-47.08h1.85v47.08zM382.68 375.15v-19.91h1.85v19.91zM388.18 375.15v-3.41h1.85v3.41zM393.77 375.15v-0.73h1.85v0.73zM399.27 375.15v-0.73h1.85v0.73z" fill="#0a4a84"/>
<path d="M348.57 362.04h1.85v0.9h-1.85zM354.18 328.56h1.85v0.9h-1.85zM360.27 262.82h1.85v0.9h-1.85zM365.77 234.19h1.85v0.9h-1.85zM371.38 279.07h1.85v0.9h-1.85zM377.07 328.07h1.85v0.9h-1.85zM382.68 355.24h1.85v0.9h-1.85zM388.18 371.74h1.85v0.9h-1.85z" fill="#0c2846"/>
<path d="M356.07 375.15v-0.49h1.85v0.49zM361.77 375.15v-2.43h1.85v2.43zM367.18 375.15v-5.84h1.85v5.84zM372.88 375.15v-13.11h1.85v13.11zM378.68 375.15v-18.94h1.85v18.94zM384.18 375.15v-28.15h1.85v28.15zM389.88 375.15v-38.83h1.85v38.83zM395.68 375.15v-49.02h1.85v49.02zM401.38 375.15v-46.59h1.85v46.59zM407.07 375.15v-57.75h1.85v57.75zM412.68 375.15v-49.02h1.85v49.02zM418.38 375.15v-53.38h1.85v53.38zM423.97 375.15v-32.52h1.85v32.52zM429.68 375.15v-21.36h1.85v21.36zM435.38 375.15v-18.94h1.85v18.94zM440.97 375.15v-14.57h1.85v14.57zM446.68 375.15v-9.72h1.85v9.72zM452.47 375.15v-7.78h1.85v7.78zM457.97 375.15v-5.84h1.85v5.84zM463.68 375.15v-1.94h1.85v1.94zM469.27 375.15v-0.73h1.85v0.73zM474.97 375.15v-1.21h1.85v1.21zM480.57 375.15v-0.49h1.85v0.49zM491.88 375.15v-0.58h1.85v0.58zM497.47 375.15v-0.49h1.85v0.49zM508.77 375.15v-0.73h1.85v0.73z" fill="#9e5406"/>
<path d="M367.18 369.31h1.85v0.9h-1.85zM372.88 362.04h1.85v0.9h-1.85zM378.68 356.21h1.85v0.9h-1.85zM384.18 347.00h1.85v0.9h-1.85zM389.88 336.32h1.85v0.9h-1.85zM395.68 326.13h1.85v0.9h-1.85zM401.38 328.56h1.85v0.9h-1.85zM407.07 317.40h1.85v0.9h-1.85zM412.68 326.13h1.85v0.9h-1.85zM418.38 321.77h1.85v0.9h-1.85zM423.97 342.63h1.85v0.9h-1.85zM429.68 353.79h1.85v0.9h-1.85zM435.38 356.21h1.85v0.9h-1.85zM440.97 360.58h1.85v0.9h-1.85zM446.68 365.43h1.85v0.9h-1.85zM452.47 367.37h1.85v0.9h-1.85zM457.97 369.31h1.85v0.9h-1.85z" fill="#502806"/>
<rect x="326.7" y="229.6" width="213.7" height="145.54999999999998" fill="none" stroke="#4a4a4a" stroke-width="1"/>
<path d="M326.70 375.15v-2.3M326.70 229.6v2.3M380.12 375.15v-2.3M380.12 229.6v2.3M433.55 375.15v-2.3M433.55 229.6v2.3M486.97 375.15v-2.3M486.97 229.6v2.3M540.40 375.15v-2.3M540.40 229.6v2.3M326.7 229.60h2.3M540.4 229.60h-2.3M326.7 278.12h2.3M540.4 278.12h-2.3M326.7 326.63h2.3M540.4 326.63h-2.3M326.7 375.15h2.3M540.4 375.15h-2.3" stroke="#4a4a4a" stroke-width="1" fill="none"/>
<text x="326.7" y="392.84999999999997" font-size="12.5" text-anchor="middle">0</text>
<text x="380.12" y="392.84999999999997" font-size="12.5" text-anchor="middle">2</text>
<text x="433.55" y="392.84999999999997" font-size="12.5" text-anchor="middle">4</text>
<text x="486.97" y="392.84999999999997" font-size="12.5" text-anchor="middle">6</text>
<text x="540.4" y="392.84999999999997" font-size="12.5" text-anchor="middle">8</text>
<text x="322.5" y="235.3" font-size="12.5" text-anchor="end">300</text>
<text x="322.5" y="283.32" font-size="12.5" text-anchor="end">200</text>
<text x="322.5" y="332.23" font-size="12.5" text-anchor="end">100</text>
<text x="322.5" y="380.55" font-size="12.5" text-anchor="end">0</text>
<text x="433.75" y="411.55" font-size="15.3" text-anchor="middle">Range</text>
<text x="294.5" y="303.18" font-size="15.3" text-anchor="middle" transform="rotate(-90 294.5 303.18)">Frequency</text>
<text x="326.8" y="223.6" font-size="15.0" text-anchor="start">(D)</text>
<rect x="496.4" y="237.5" width="36" height="31" fill="#fff" stroke="#3c3c3c" stroke-width="1"/>
<rect x="498.30" y="239.00" width="23.4" height="13.7" fill="#0072bd" stroke="#20303c" stroke-width="0.8"/>
<rect x="498.30" y="254.30" width="23.4" height="13.4" fill="#e07a00" stroke="#3a2c14" stroke-width="0.8"/>
<text x="524.0" y="250.75" font-size="10.8" text-anchor="start">x</text>
<text x="524.0" y="266.3" font-size="10.8" text-anchor="start">y</text>
</svg></body></html>
